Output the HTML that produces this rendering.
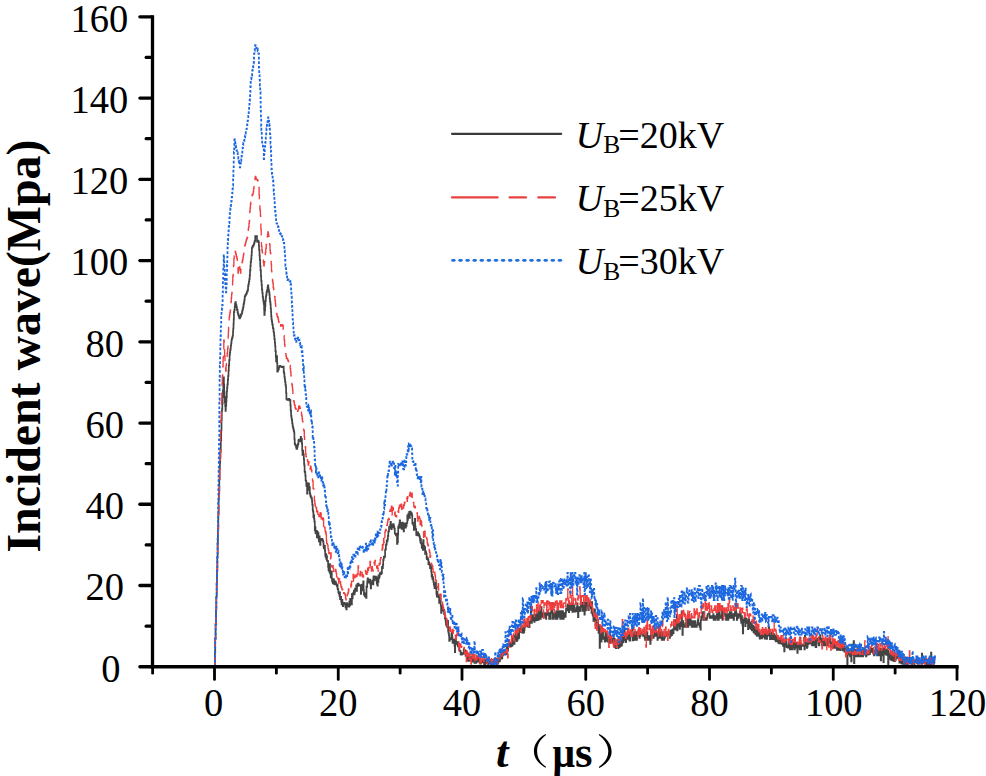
<!DOCTYPE html><html><head><meta charset="utf-8"><style>html,body{margin:0;padding:0;background:#fff;}svg{display:block;}</style></head><body>
<svg width="986" height="776" viewBox="0 0 986 776">
<rect width="986" height="776" fill="#fff"/>
<g fill="none" stroke-linejoin="miter">
<path d="M214.5 666.5H214.9V651.7H215.2V638.2H215.6V624.1H216.0V610.0H216.3V596.8H216.7V583.5H217.0V569.5H217.3V557.0H217.6V542.8H217.9V529.2H218.3V514.2H218.6V500.0H218.9V493.2H219.3V479.3H219.6V469.0H219.9V462.6H220.2V457.7H220.5V452.0H220.8V440.6H221.2V430.7H221.5V420.0H221.8V411.2H222.0V409.3H222.3V404.0H222.6V397.4H222.9V390.7H223.3V384.0H223.6V377.4H223.9V384.7H224.2V392.0H224.5V396.7H224.8V402.1H225.2V406.2H225.5V410.9H225.8V406.0H226.2V401.2H226.5V397.1H226.8V391.5H227.1V387.6H227.4V384.4H227.8V379.9H228.1V376.0H228.5V370.7H228.8V365.4H229.2V360.1H229.6V354.8H229.9V352.5H230.2V350.1H230.5V348.5H230.8V345.5H231.2V342.8H231.5V340.0H231.9V338.5H232.3V337.0H232.7V335.5H233.0V331.6H233.2V328.5H233.5V323.9H233.7V319.4H233.9V315.0H233.9V312.0H234.3V310.2H234.7V307.0H235.0V303.8H235.4V302.0H235.8V304.4H236.1V305.4H236.5V307.1H236.9V309.6H237.3V309.9H237.6V312.3H238.0V314.0H238.4V315.1H238.8V316.2H239.1V317.3H239.5V318.4H239.8V317.7H240.2V316.9H240.6V316.2H240.9V314.8H241.2V314.0H241.6V314.0H242.0V312.2H242.3V310.5H242.7V308.8H243.1V307.0H243.5V304.4H243.9V302.6H244.3V300.0H244.7V296.7H245.1V296.0H245.4V295.2H245.8V294.5H246.2V293.7H246.6V293.7H246.9V291.5H247.3V291.5H247.7V289.7H248.1V285.8H248.5V284.0H248.9V281.5H249.3V279.0H249.7V275.4H250.0V270.3H250.4V266.0H250.7V261.8H251.1V259.0H251.4V255.5H251.7V251.8H251.9V248.0H252.3V247.2H252.7V245.8H253.1V245.8H253.5V245.0H253.8V244.0H254.2V243.0H254.5V241.3H254.8V241.0H255.2V236.0H255.6V236.0H255.9V236.0H256.2V236.0H256.6V236.0H257.0V241.0H257.3V241.9H257.6V240.7H258.0V241.6H258.3V241.1H258.6V242.0H258.9V246.0H259.1V250.0H259.5V255.3H259.8V260.0H260.2V266.0H260.5V270.3H260.9V276.0H261.2V281.0H261.6V285.0H261.9V289.7H262.3V293.0H262.7V297.0H263.1V299.3H263.4V301.7H263.8V304.0H264.1V309.5H264.3V315.0H264.7V310.5H265.1V306.0H265.4V300.8H265.8V297.0H266.1V295.1H266.5V292.4H266.9V291.2H267.2V290.0H267.5V287.3H267.9V285.4H268.3V288.4H268.6V290.0H269.0V292.3H269.4V294.6H269.7V298.8H270.0V301.6H270.4V304.3H270.7V308.5H271.0V312.0H271.2V316.4H271.5V319.4H271.8V321.3H272.2V323.8H272.5V325.0H272.8V327.8H273.1V328.5H273.5V331.4H273.8V332.8H274.1V335.6H274.4V339.1H274.8V342.5H275.1V346.0H275.4V351.1H275.8V357.0H276.1V361.4H276.5V358.7H276.9V356.0H277.1V363.2H277.3V371.7H277.7V370.7H278.1V369.6H278.4V369.3H278.8V367.5H279.2V366.5H279.6V365.8H280.0V365.8H280.3V366.5H280.7V366.5H281.1V366.5H281.5V367.2H281.9V367.2H282.3V366.5H282.6V366.5H283.0V366.5H283.4V366.5H283.7V372.1H284.1V373.5H284.4V377.0H284.8V379.5H285.1V382.0H285.5V385.2H285.9V387.0H286.1V393.0H286.4V399.0H286.8V399.1H287.1V399.9H287.5V399.3H287.8V399.4H288.2V399.5H288.6V398.9H288.9V399.0H289.3V400.5H289.6V399.9H290.0V400.0H290.4V405.3H290.7V410.7H291.1V416.0H291.5V418.5H291.9V420.3H292.2V423.5H292.6V426.0H293.0V427.8H293.4V429.5H293.8V431.2H294.2V433.0H294.4V439.0H294.7V443.6H295.1V444.5H295.4V445.3H295.8V445.5H296.1V447.1H296.4V448.6H296.8V448.8H297.2V446.9H297.6V445.1H298.0V443.9H298.4V440.7H298.8V439.5H299.2V439.6H299.5V439.6H299.9V439.7H300.3V441.3H300.7V436.9H301.0V439.9H301.4V440.0H301.7V438.9H301.9V443.7H302.2V450.1H302.5V455.0H302.8V450.8H303.2V454.2H303.5V454.5H303.8V459.4H304.1V463.9H304.3V465.3H304.6V471.7H305.0V472.2H305.3V475.6H305.6V480.5H306.0V481.0H306.3V485.9H306.7V483.0H307.1V493.7H307.5V486.3H307.9V483.4H308.2V489.6H308.6V483.7H309.0V489.9H309.4V487.0H309.8V493.1H310.1V494.6H310.5V496.2H310.9V497.5H311.2V497.3H311.6V498.6H312.0V501.4H312.3V504.8H312.7V509.8H313.0V511.7H313.4V517.1H313.7V515.0H314.1V518.9H314.4V521.7H314.8V530.4H315.1V527.2H315.5V533.1H315.8V533.0H316.2V533.4H316.6V530.9H316.9V537.3H317.3V531.8H317.7V535.2H318.1V533.2H318.5V538.7H318.9V541.3H319.3V536.3H319.7V540.3H320.1V544.8H320.5V540.3H320.9V538.8H321.2V540.3H321.6V538.8H322.0V538.8H322.4V540.3H322.8V540.3H323.1V542.0H323.5V546.7H323.9V548.5H324.2V545.7H324.5V545.9H324.9V550.6H325.2V555.3H325.6V557.0H325.9V554.2H326.3V559.0H326.6V556.2H327.0V560.9H327.4V560.9H327.8V561.0H328.1V567.0H328.5V570.1H328.9V570.1H329.2V571.7H329.6V564.2H330.0V573.3H330.4V571.7H330.7V577.5H331.1V577.4H331.4V571.3H331.8V578.6H332.1V581.5H332.5V581.7H332.8V583.4H333.2V579.1H333.6V579.3H334.0V582.5H334.3V584.1H334.7V581.3H335.1V584.5H335.5V581.7H335.8V583.4H336.2V583.6H336.6V585.0H336.9V586.4H337.2V584.8H337.6V589.1H337.9V589.0H338.3V591.9H338.6V592.8H339.0V593.6H339.4V596.0H339.7V592.3H340.0V599.1H340.4V597.0H340.8V596.9H341.2V601.4H341.6V604.3H342.0V599.8H342.4V604.2H342.8V606.1H343.2V605.0H343.6V603.9H343.9V602.8H344.3V603.1H344.7V603.5H345.1V603.9H345.5V607.3H345.9V605.4H346.3V609.5H346.7V603.1H347.1V604.2H347.4V605.4H347.8V606.5H348.2V604.6H348.6V604.2H349.0V606.6H349.3V601.5H349.7V605.4H350.1V598.9H350.5V601.3H350.8V603.7H351.2V600.1H351.6V604.5H351.9V594.0H352.3V598.5H352.7V593.9H353.1V593.3H353.5V592.6H353.9V590.5H354.2V594.3H354.6V592.2H355.0V588.6H355.4V590.9H355.8V588.8H356.2V585.4H356.6V591.0H357.0V586.1H357.4V584.2H357.7V583.9H358.1V583.5H358.5V584.6H358.9V585.7H359.3V585.6H359.7V585.4H360.1V585.3H360.4V585.2H360.8V594.0H361.2V587.9H361.6V587.7H362.0V584.6H362.4V587.5H362.8V590.5H363.2V581.4H363.6V590.3H363.9V594.7H364.3V593.1H364.7V596.1H365.1V596.0H365.5V596.6H365.8V594.2H366.1V597.8H366.5V586.3H366.9V586.9H367.2V581.5H367.6V578.4H368.0V579.8H368.4V581.3H368.8V582.7H369.2V579.6H369.6V582.5H369.9V579.5H370.3V583.9H370.7V588.3H371.1V583.7H371.5V582.2H371.9V582.1H372.3V580.5H372.7V583.2H373.0V584.4H373.4V576.7H373.8V576.4H374.2V577.6H374.5V580.3H374.9V578.5H375.3V576.7H375.7V576.5H376.0V577.7H376.4V577.4H376.8V583.2H377.1V584.4H377.5V585.7H377.8V579.3H378.2V581.8H378.5V575.4H378.9V578.1H379.3V576.4H379.7V573.1H380.1V574.3H380.4V574.1H380.8V573.8H381.2V572.1H381.6V573.3H381.9V567.1H382.2V566.9H382.6V568.2H382.9V564.9H383.2V560.2H383.6V558.5H383.9V556.7H384.3V556.5H384.7V557.0H385.1V550.1H385.5V549.1H385.9V545.2H386.3V544.2H386.7V540.6H387.1V541.5H387.5V539.5H387.9V535.9H388.3V532.1H388.6V531.2H389.0V527.4H389.4V526.6H389.8V528.0H390.2V524.9H390.5V521.8H390.9V527.7H391.3V529.1H391.7V526.1H392.1V524.5H392.5V527.4H392.8V527.3H393.2V524.2H393.6V525.6H394.0V527.3H394.4V528.9H394.8V533.6H395.2V533.7H395.6V533.9H396.0V535.3H396.3V533.6H396.6V535.0H397.0V543.9H397.4V542.2H397.7V542.1H397.9V534.4H398.2V526.6H398.6V528.0H399.0V524.9H399.4V523.4H399.7V520.3H400.1V526.2H400.5V527.6H400.9V526.0H401.3V522.9H401.6V528.9H402.0V522.8H402.4V522.7H402.8V525.6H403.2V524.0H403.6V531.4H404.0V523.7H404.4V526.6H404.7V525.0H405.1V523.4H405.5V527.7H405.9V524.6H406.2V526.0H406.6V523.0H406.9V523.0H407.3V515.4H407.6V519.8H408.0V515.3H408.4V513.7H408.8V518.0H409.2V511.9H409.6V517.8H409.9V511.7H410.3V511.5H410.7V512.9H411.1V514.3H411.5V513.4H411.9V515.4H412.3V523.5H412.7V522.5H413.1V524.6H413.5V524.9H413.8V529.8H414.1V527.1H414.5V527.4H414.9V518.8H415.2V526.6H415.5V529.4H415.9V529.1H416.2V534.9H416.6V532.0H417.0V535.1H417.4V535.3H417.8V532.4H418.1V535.5H418.5V534.1H418.9V534.3H419.3V535.9H419.6V537.1H420.0V539.8H420.4V542.5H420.7V539.2H421.0V543.4H421.4V543.1H421.7V547.1H422.1V548.2H422.4V546.2H422.8V549.9H423.2V540.0H423.6V549.6H423.9V545.8H424.3V548.0H424.7V547.1H425.1V553.8H425.5V551.4H425.9V552.6H426.2V553.8H426.6V558.0H426.9V559.2H427.2V557.4H427.6V558.6H428.0V559.8H428.4V564.1H428.8V562.3H429.2V563.6H429.6V564.8H430.0V568.1H430.4V565.4H430.8V567.2H431.2V572.0H431.6V576.3H431.9V574.6H432.3V578.9H432.7V577.2H433.1V579.6H433.4V582.0H433.8V584.4H434.2V585.6H434.5V588.2H434.9V587.9H435.3V587.5H435.6V582.7H436.0V588.4H436.4V594.0H436.8V596.7H437.1V591.8H437.5V596.0H437.9V597.0H438.3V595.0H438.7V596.0H439.1V603.0H439.5V598.0H439.9V600.4H440.3V601.3H440.7V605.5H441.1V612.9H441.5V605.9H441.9V606.9H442.3V606.5H442.6V607.7H443.0V610.6H443.4V610.2H443.7V609.8H444.1V614.2H444.5V612.3H444.8V618.3H445.2V617.9H445.6V621.0H445.9V624.0H446.3V625.5H446.7V620.5H447.0V626.8H447.4V626.6H447.8V620.8H448.1V631.0H448.5V633.2H448.9V635.4H449.2V640.8H449.6V639.8H450.0V638.5H450.3V638.8H450.7V639.2H451.1V637.9H451.4V633.4H451.8V632.1H452.2V637.3H452.5V642.6H452.9V643.0H453.3V641.3H453.7V639.6H454.1V642.7H454.5V645.8H454.9V652.1H455.2V639.3H455.6V639.2H456.0V643.9H456.4V642.2H456.8V642.1H457.2V642.0H457.6V645.1H457.9V646.5H458.3V643.1H458.7V646.2H459.0V646.0H459.4V650.7H459.8V650.9H460.2V651.0H460.6V654.4H461.0V652.9H461.4V654.7H461.8V653.2H462.1V653.4H462.5V653.6H462.9V653.7H463.3V653.9H463.7V649.2H464.1V651.0H464.5V651.1H464.9V652.9H465.3V650.3H465.6V655.8H466.0V651.6H466.4V653.9H466.7V652.9H467.1V653.5H467.5V660.6H467.8V654.8H468.2V655.5H468.6V660.9H468.9V656.8H469.3V660.6H469.7V660.5H470.1V658.8H470.5V657.2H470.9V657.1H471.3V657.0H471.7V660.1H472.1V661.6H472.4V656.8H472.8V661.5H473.2V661.4H473.6V658.1H474.0V659.7H474.4V662.8H474.8V659.5H475.2V661.2H475.6V662.8H475.9V662.9H476.3V661.4H476.7V659.8H477.1V659.9H477.5V661.6H477.9V656.8H478.2V660.1H478.6V658.5H479.0V658.6H479.4V661.9H479.8V663.5H480.2V657.2H480.5V663.7H480.9V662.1H481.3V660.6H481.7V662.3H482.1V660.8H482.5V662.4H482.9V662.5H483.3V659.4H483.7V659.5H484.1V664.4H484.4V664.4H484.8V664.5H485.2V659.8H485.6V659.9H486.0V663.1H486.4V658.4H486.8V661.7H487.2V660.3H487.6V660.5H488.0V665.5H488.4V659.3H488.8V659.5H489.2V661.3H489.6V663.1H490.0V660.1H490.4V663.5H490.8V662.1H491.2V663.9H491.6V662.1H492.0V663.6H492.4V665.5H492.8V660.1H493.2V661.5H493.6V661.4H493.9V659.6H494.3V659.4H494.7V659.3H495.1V660.7H495.5V659.0H495.9V658.8H496.3V663.5H496.7V661.7H497.1V659.6H497.4V660.7H497.8V663.4H498.2V656.5H498.5V657.7H498.9V658.8H499.3V661.5H499.6V661.0H500.0V657.3H500.4V658.4H500.8V657.9H501.2V654.2H501.5V658.6H501.9V658.1H502.3V652.8H502.7V655.5H503.1V650.2H503.5V652.9H503.8V652.5H504.2V653.6H504.6V651.5H505.0V651.0H505.4V654.4H505.8V653.8H506.2V653.2H506.5V644.5H506.9V649.9H507.3V645.3H507.7V650.7H508.1V644.1H508.5V645.5H508.8V644.8H509.2V646.2H509.6V645.6H510.0V643.0H510.4V646.7H510.8V642.5H511.2V646.2H511.5V645.9H511.9V639.7H512.3V645.4H512.7V637.1H513.1V642.8H513.5V642.6H513.8V640.3H514.2V644.0H514.6V635.8H515.0V639.5H515.4V634.9H515.8V634.3H516.2V633.8H516.5V641.2H516.9V636.6H517.3V640.0H517.7V635.5H518.1V632.9H518.5V638.3H518.8V637.7H519.2V631.2H519.6V628.6H520.0V632.0H520.4V631.6H520.8V631.2H521.2V626.8H521.5V632.5H521.9V630.1H522.3V629.7H522.7V627.3H523.1V632.9H523.5V628.5H523.8V632.2H524.2V629.8H524.6V623.4H525.0V627.0H525.4V622.7H525.8V624.3H526.2V624.0H526.5V623.6H526.9V625.3H527.3V624.9H527.7V626.6H528.1V624.2H528.5V621.9H528.8V625.5H529.2V627.2H529.6V622.8H530.0V622.5H530.4V620.1H530.8V605.7H531.2V619.2H531.5V622.8H531.9V620.4H532.3V618.0H532.7V615.5H533.1V615.1H533.5V616.7H533.8V620.3H534.2V621.8H534.6V619.4H535.0V617.0H535.4V614.8H535.8V614.7H536.2V620.5H536.5V614.4H536.9V620.2H537.3V608.1H537.7V613.9H538.1V619.8H538.5V619.6H538.8V617.5H539.2V611.3H539.6V611.2H540.0V615.0H540.4V619.0H540.8V617.0H541.2V607.0H541.6V615.0H542.0V617.0H542.4V613.0H542.8V615.0H543.2V617.0H543.6V617.0H544.0V617.0H544.4V613.0H544.8V615.0H545.2V613.0H545.6V615.0H546.0V619.0H546.3V615.0H546.7V613.0H547.1V615.0H547.5V615.0H547.9V611.0H548.3V613.0H548.7V613.0H549.1V619.0H549.5V613.0H549.9V613.0H550.3V619.0H550.7V613.0H551.1V611.0H551.5V611.0H551.9V603.0H552.3V613.0H552.7V619.0H553.1V613.0H553.5V613.0H553.9V617.0H554.3V613.0H554.7V613.0H555.1V619.0H555.5V619.0H555.9V613.0H556.3V611.0H556.7V619.0H557.1V619.0H557.5V617.0H557.9V611.0H558.3V615.0H558.7V613.0H559.0V611.0H559.4V617.0H559.8V613.0H560.2V619.0H560.6V611.0H561.0V613.0H561.4V617.0H561.8V619.0H562.2V619.0H562.6V611.0H563.0V613.0H563.4V619.0H563.8V617.0H564.2V613.0H564.6V613.0H565.0V615.0H565.3V616.8H565.7V612.7H566.0V608.5H566.4V610.5H566.8V610.4H567.2V606.4H567.6V604.3H568.0V604.3H568.4V610.2H568.8V612.2H569.2V608.2H569.6V604.1H570.0V604.1H570.4V610.0H570.8V606.0H571.2V606.0H571.6V609.9H572.0V605.9H572.4V611.8H572.8V603.8H573.2V603.8H573.6V611.7H574.0V605.7H574.4V607.6H574.8V611.6H575.2V611.5H575.6V609.5H576.0V611.5H576.4V609.4H576.8V607.4H577.2V603.3H577.6V609.3H578.0V617.2H578.4V611.2H578.8V607.2H579.2V611.1H579.6V607.1H580.0V611.0H580.4V611.0H580.8V603.0H581.2V602.9H581.6V606.9H582.0V606.8H582.4V602.8H582.8V610.8H583.2V602.7H583.6V608.7H584.0V610.6H584.4V614.6H584.8V610.5H585.2V602.5H585.6V610.5H586.0V606.4H586.4V606.4H586.8V602.3H587.2V604.3H587.6V606.2H588.0V608.2H588.4V610.2H588.8V602.1H589.2V604.1H589.6V606.0H590.0V606.0H590.4V605.2H590.8V608.5H591.1V605.8H591.5V613.0H591.9V602.2H592.2V609.5H592.6V614.8H593.0V616.0H593.4V620.9H593.8V619.7H594.2V614.5H594.6V609.4H595.0V616.2H595.4V625.1H595.8V620.0H596.2V626.8H596.6V627.6H597.0V624.5H597.4V625.6H597.8V622.6H598.1V629.7H598.5V632.8H598.9V627.8H599.2V626.9H599.6V647.9H600.0V633.0H600.4V629.2H600.8V627.4H601.2V641.7H601.6V637.9H601.9V636.1H602.3V630.3H602.7V632.6H603.1V638.8H603.5V639.0H603.9V637.2H604.3V637.4H604.7V641.7H605.1V639.9H605.4V632.1H605.8V634.3H606.2V638.6H606.6V640.8H607.0V637.0H607.4V641.3H607.8V639.6H608.2V641.9H608.5V640.2H608.9V636.5H609.3V642.8H609.7V641.2H610.1V639.5H610.5V635.8H610.8V636.1H611.2V642.4H611.6V638.7H612.0V641.0H612.4V639.3H612.8V641.6H613.2V639.9H613.5V644.2H613.9V638.5H614.3V638.8H614.7V647.2H615.1V643.5H615.5V643.8H615.8V648.1H616.2V640.4H616.6V640.7H617.0V645.0H617.4V640.7H617.8V644.4H618.2V648.1H618.5V639.8H618.9V641.5H619.3V647.2H619.7V642.8H620.1V644.5H620.5V646.2H620.8V637.9H621.2V643.6H621.6V645.3H622.0V641.0H622.4V632.7H622.8V642.4H623.2V638.1H623.5V639.8H623.9V639.5H624.3V629.2H624.7V634.8H625.1V640.5H625.5V642.2H625.8V641.9H626.2V637.6H626.6V637.3H627.0V637.0H627.4V637.0H627.8V638.9H628.2V634.9H628.6V636.8H629.0V634.8H629.4V640.7H629.8V640.6H630.2V636.6H630.6V632.5H631.0V632.5H631.4V632.5H631.8V632.4H632.2V626.4H632.6V640.3H633.0V634.2H633.4V640.2H633.8V636.1H634.2V634.1H634.6V632.0H635.0V636.0H635.4V640.0H635.8V632.0H636.2V638.0H636.6V640.0H637.0V632.0H637.4V634.0H637.8V636.0H638.2V632.0H638.6V636.0H639.0V634.0H639.4V638.0H639.8V632.0H640.2V636.0H640.6V632.0H641.0V634.0H641.4V632.0H641.8V632.0H642.2V632.0H642.6V634.0H643.0V636.0H643.4V634.0H643.8V636.0H644.2V636.0H644.6V638.0H645.0V640.0H645.4V638.0H645.8V634.0H646.2V638.0H646.6V634.0H647.0V632.0H647.4V638.0H647.8V640.0H648.2V636.0H648.6V636.0H649.0V636.0H649.4V638.0H649.8V640.0H650.2V644.0H650.6V640.0H651.0V634.0H651.4V634.0H651.8V632.0H652.2V636.0H652.6V636.0H653.0V638.0H653.4V638.0H653.8V636.0H654.2V632.0H654.6V636.0H655.0V636.0H655.4V634.0H655.8V632.0H656.2V634.0H656.6V636.0H657.0V636.0H657.4V640.0H657.8V636.0H658.2V632.0H658.6V638.0H658.9V626.0H659.3V636.0H659.7V638.0H660.1V632.0H660.5V636.0H660.9V632.0H661.3V634.0H661.7V640.0H662.1V634.0H662.5V632.0H662.9V640.0H663.3V640.0H663.7V640.0H664.1V638.0H664.5V638.0H664.9V636.0H665.3V632.0H665.7V634.0H666.1V634.0H666.4V632.0H666.8V636.0H667.2V636.0H667.6V634.0H668.0V634.0H668.4V634.0H668.8V634.0H669.2V632.0H669.6V638.0H670.0V636.0H670.4V630.8H670.8V635.6H671.2V630.4H671.6V635.2H672.0V630.0H672.4V633.7H672.8V629.5H673.2V633.2H673.6V628.9H674.0V624.7H674.4V628.4H674.8V620.1H675.2V627.9H675.6V629.6H676.0V623.3H676.4V627.1H676.8V614.8H677.2V630.5H677.6V626.3H678.0V626.0H678.4V623.7H678.8V625.4H679.2V625.1H679.6V628.8H680.0V622.5H680.4V626.2H680.8V625.9H681.2V621.6H681.6V611.3H682.0V623.0H682.4V635.0H682.8V621.0H683.2V625.0H683.6V625.0H684.0V627.0H684.4V625.0H684.8V627.0H685.2V623.0H685.6V625.0H686.0V627.0H686.4V619.0H686.8V623.0H687.2V621.0H687.6V619.0H688.0V627.0H688.4V621.0H688.8V625.0H689.2V615.0H689.6V621.0H690.0V625.0H690.4V619.0H690.8V621.0H691.2V623.0H691.6V627.0H692.0V621.0H692.4V625.0H692.8V627.0H693.2V621.0H693.6V627.0H694.0V627.0H694.4V621.0H694.8V621.0H695.2V623.0H695.6V625.0H696.0V627.0H696.4V627.0H696.8V625.0H697.2V625.0H697.6V621.0H698.0V619.0H698.4V625.0H698.8V625.0H699.2V625.0H699.6V627.0H700.0V623.0H700.4V629.6H700.8V620.2H701.2V616.8H701.6V617.4H702.0V616.0H702.4V612.0H702.8V612.0H703.2V620.0H703.6V616.0H704.0V612.0H704.4V618.0H704.8V618.0H705.2V620.0H705.6V618.0H706.0V618.0H706.4V620.0H706.8V618.0H707.2V616.0H707.6V614.0H708.0V614.0H708.4V614.0H708.8V614.0H709.2V612.0H709.6V618.0H710.0V616.0H710.4V616.0H710.8V618.0H711.2V618.0H711.6V616.0H712.0V618.0H712.4V616.0H712.8V618.0H713.2V614.0H713.6V620.0H714.0V616.0H714.4V618.0H714.8V620.0H715.2V616.0H715.6V616.0H716.0V618.0H716.4V618.0H716.8V614.0H717.2V620.0H717.6V620.0H718.0V612.0H718.4V620.0H718.8V616.0H719.2V612.0H719.6V616.0H720.0V618.0H720.4V616.0H720.8V616.0H721.2V618.0H721.6V614.0H722.0V606.0H722.4V620.0H722.8V614.0H723.2V616.0H723.6V612.0H724.0V612.0H724.4V614.0H724.8V614.0H725.2V614.0H725.6V616.0H726.0V620.0H726.4V614.0H726.8V614.0H727.2V614.0H727.6V614.0H728.0V620.0H728.4V618.0H728.8V616.0H729.2V616.0H729.6V612.0H730.0V614.0H730.4V618.0H730.8V612.0H731.2V612.0H731.6V618.0H732.0V614.0H732.4V614.0H732.8V616.0H733.2V618.0H733.6V620.0H734.0V614.0H734.4V614.0H734.8V612.0H735.2V616.0H735.6V604.0H736.0V612.0H736.4V616.0H736.8V620.0H737.2V618.0H737.6V614.0H738.0V616.0H738.4V618.0H738.8V616.0H739.2V614.0H739.6V614.0H740.0V616.0H740.4V613.0H740.8V620.0H741.2V623.0H741.6V616.0H742.0V621.0H742.4V625.1H742.8V633.3H743.2V619.5H743.6V621.6H744.0V621.8H744.4V617.9H744.8V620.0H745.2V626.2H745.6V618.4H746.0V620.5H746.4V618.6H746.8V620.8H747.2V623.0H747.6V623.1H748.0V629.2H748.4V627.4H748.8V619.5H749.2V625.7H749.6V627.9H750.0V624.0H750.4V622.5H750.8V628.9H751.2V625.4H751.5V621.8H751.9V630.3H752.3V626.8H752.7V627.2H753.1V625.7H753.5V632.2H753.8V632.6H754.2V627.1H754.6V631.5H755.0V630.0H755.4V634.4H755.8V630.8H756.2V627.2H756.5V627.5H756.9V635.9H757.3V630.3H757.7V632.7H758.1V635.1H758.5V629.5H758.8V631.8H759.2V636.2H759.6V638.6H760.0V635.0H760.4V635.0H760.8V636.8H761.2V636.8H761.6V638.5H762.0V636.8H762.4V633.5H762.8V631.8H763.2V636.9H763.6V631.8H763.9V635.3H764.3V635.3H764.7V638.7H765.1V633.6H765.5V633.7H765.9V632.0H766.3V638.8H766.7V638.8H767.1V632.1H767.5V635.5H767.9V632.1H768.3V635.6H768.7V627.1H769.1V632.2H769.5V635.6H769.9V639.1H770.3V637.4H770.7V637.4H771.1V639.1H771.4V632.4H771.8V632.4H772.2V632.4H772.6V639.2H773.0V634.2H773.4V634.2H773.8V634.2H774.2V635.9H774.6V639.4H775.0V636.0H775.4V640.4H775.8V641.4H776.2V635.6H776.6V640.0H777.0V641.0H777.4V637.7H777.8V641.2H778.2V643.0H778.6V638.0H779.0V638.1H779.4V643.3H779.8V643.4H780.2V641.8H780.6V640.2H781.0V640.3H781.4V638.7H781.8V643.9H782.2V640.6H782.6V640.7H783.0V645.9H783.4V644.3H783.8V646.1H784.2V651.3H784.6V641.2H785.0V643.0H785.4V645.3H785.8V645.9H786.2V641.4H786.6V647.1H787.0V646.0H787.4V646.0H787.8V647.7H788.2V646.0H788.6V644.3H789.0V642.6H789.4V646.0H789.8V649.4H790.2V649.4H790.6V649.4H791.0V642.6H791.4V644.3H791.8V642.6H792.1V649.4H792.5V642.6H792.9V646.0H793.3V647.7H793.7V642.6H794.1V644.3H794.5V649.4H794.9V642.6H795.3V642.6H795.7V647.7H796.1V642.6H796.5V642.6H796.9V647.7H797.3V652.8H797.7V644.3H798.1V647.7H798.5V647.7H798.9V644.3H799.3V647.7H799.7V649.4H800.1V637.5H800.5V646.0H800.9V649.4H801.2V646.0H801.6V644.3H802.0V646.0H802.4V644.3H802.8V644.3H803.2V644.3H803.6V646.0H804.0V646.0H804.4V649.4H804.8V635.8H805.2V644.3H805.6V642.6H806.0V646.0H806.4V643.5H806.8V647.8H807.2V647.0H807.6V644.5H808.0V642.0H808.4V640.3H808.8V643.7H809.2V638.6H809.6V642.0H810.0V642.0H810.4V643.7H810.8V638.6H811.2V640.3H811.6V643.7H812.0V645.4H812.4V645.4H812.8V643.7H813.2V638.6H813.6V640.3H814.0V645.4H814.4V642.0H814.8V642.0H815.2V638.6H815.6V647.1H816.0V647.1H816.4V638.6H816.8V640.3H817.2V640.3H817.6V638.6H818.0V638.6H818.4V643.7H818.8V645.4H819.2V638.6H819.6V638.6H820.0V635.2H820.4V642.0H820.8V638.6H821.2V642.0H821.6V645.4H822.0V643.7H822.4V645.4H822.8V638.6H823.2V643.7H823.6V640.3H824.0V640.3H824.4V645.4H824.8V642.0H825.2V642.0H825.6V643.7H826.0V645.4H826.4V645.4H826.8V638.6H827.2V638.6H827.6V643.7H828.0V645.4H828.4V638.6H828.8V642.0H829.2V642.0H829.6V638.6H830.0V642.0H830.4V642.8H830.8V647.0H831.2V642.7H831.6V643.5H832.0V646.0H832.4V642.6H832.8V647.8H833.2V642.7H833.6V642.7H834.0V642.8H834.4V647.9H834.8V644.5H835.2V644.6H835.6V642.9H836.0V648.0H836.4V643.0H836.8V649.8H837.2V649.8H837.6V648.2H838.0V649.9H838.4V648.2H838.8V648.3H839.2V650.0H839.6V650.0H840.0V645.0H840.4V650.1H840.8V646.7H841.2V648.5H841.6V648.5H842.0V648.5H842.4V645.2H842.8V650.3H843.2V646.9H843.6V647.0H844.0V647.0H844.4V651.6H844.8V649.4H845.2V648.9H845.6V651.8H846.0V653.0H846.4V651.3H846.8V654.7H847.2V664.9H847.6V647.9H848.0V649.6H848.4V653.0H848.8V654.7H849.2V654.7H849.6V649.6H850.0V656.4H850.4V649.6H850.8V653.0H851.2V661.5H851.6V653.0H852.0V644.5H852.4V649.6H852.8V646.2H853.2V654.7H853.6V641.1H854.0V663.2H854.4V654.7H854.8V649.6H855.2V654.7H855.6V656.4H856.0V654.7H856.4V649.6H856.8V654.7H857.2V654.7H857.6V656.4H858.0V656.4H858.4V656.4H858.8V654.7H859.2V653.0H859.6V654.7H860.0V656.4H860.4V651.3H860.8V656.4H861.2V656.4H861.6V649.6H862.0V649.6H862.4V654.7H862.8V656.4H863.2V649.6H863.6V654.7H864.0V651.3H864.4V649.6H864.8V649.6H865.2V654.7H865.6V649.6H866.0V656.4H866.4V651.3H866.8V654.7H867.2V653.0H867.6V654.7H868.0V653.0H868.4V651.1H868.8V654.3H869.2V654.1H869.6V653.9H870.0V652.0H870.4V650.3H870.8V648.6H871.2V652.0H871.6V648.6H872.0V652.0H872.4V650.3H872.8V648.6H873.2V653.7H873.6V650.3H873.9V655.4H874.3V650.3H874.7V652.0H875.1V650.3H875.5V653.7H875.9V648.6H876.3V648.6H876.7V650.3H877.1V653.7H877.5V655.4H877.9V655.4H878.3V653.7H878.7V648.6H879.1V648.6H879.5V655.4H879.9V650.3H880.3V648.6H880.7V660.5H881.1V655.4H881.4V652.0H881.8V648.6H882.2V653.7H882.6V652.0H883.0V655.4H883.4V662.2H883.8V648.6H884.2V653.7H884.6V648.6H885.0V652.0H885.4V652.3H885.8V654.3H886.2V649.5H886.5V654.9H886.9V650.1H887.3V650.4H887.7V650.8H888.1V664.7H888.5V651.4H888.8V655.1H889.2V658.8H889.6V654.0H890.0V656.0H890.4V657.9H890.8V659.7H891.2V659.9H891.5V653.2H891.9V658.5H892.3V660.3H892.7V655.4H893.1V658.9H893.5V660.8H893.8V655.8H894.2V654.3H894.6V661.2H895.0V658.0H895.4V659.8H895.8V654.8H896.2V658.4H896.6V658.5H897.0V655.2H897.4V655.3H897.8V655.4H898.2V657.3H898.6V657.4H899.0V650.7H899.4V662.7H899.8V656.0H900.2V657.9H900.6V656.3H901.0V661.5H901.4V663.3H901.8V658.3H902.2V663.6H902.6V658.6H903.0V663.8H903.4V663.9H903.8V664.0H904.2V660.8H904.6V657.5H905.0V661.0H905.4V657.6H905.8V664.5H906.2V662.8H906.6V657.7H907.0V664.5H907.4V664.6H907.8V661.2H908.2V657.8H908.6V659.5H909.0V659.6H909.4V657.9H909.8V663.0H910.2V663.0H910.6V659.7H911.0V661.4H911.4V659.7H911.8V664.9H912.2V659.8H912.6V658.1H913.0V663.2H913.4V659.9H913.8V661.6H914.2V665.0H914.6V661.6H915.0V661.7H915.4V661.7H915.8V660.0H916.2V660.0H916.6V661.8H917.0V663.5H917.4V660.1H917.8V663.6H918.2V661.9H918.6V658.5H919.0V660.2H919.4V663.7H919.8V660.3H920.2V662.0H920.6V662.0H921.0V662.1H921.4V660.4H921.8V653.6H922.2V660.4H922.6V662.2H923.0V660.5H923.4V662.2H923.8V662.3H924.2V660.6H924.6V658.9H925.0V662.3H925.4V664.1H925.8V665.5H926.2V662.4H926.6V665.5H927.0V662.5H927.4V664.2H927.8V664.2H928.2V662.5H928.6V659.2H929.0V659.2H929.4V660.9H929.8V665.5H930.2V662.7H930.6V665.5H931.0V652.5H931.4V664.5H931.8V664.5H932.2V664.5H932.6V661.1H933.0V664.6H933.4V662.9H933.8V659.5H934.2V662.9H934.6V663.0H935.0V663.0" stroke="#444" stroke-width="1.7"/>
<path d="M214.5 666.5H214.9V652.4H215.2V638.2H215.6V623.4H216.0V610.0H216.4V596.0H216.8V583.5H217.1V570.2H217.5V557.0H217.8V543.5H218.2V527.8H218.5V514.2H218.8V500.0H219.1V489.7H219.5V479.3H219.8V469.0H220.2V450.0H220.5V431.0H220.8V421.0H221.2V411.0H221.5V401.0H221.8V391.0H222.1V383.4H222.3V375.7H222.7V366.8H223.1V357.9H223.4V349.0H223.8V340.1H224.2V348.1H224.6V356.0H225.0V361.7H225.3V365.3H225.7V371.0H226.1V365.6H226.4V361.0H226.8V357.0H227.2V353.1H227.6V348.5H228.0V343.2H228.2V336.0H228.4V330.7H228.6V325.4H228.9V321.2H229.2V317.0H229.6V314.7H229.9V312.4H230.3V310.1H230.6V306.0H231.0V301.8H231.3V297.7H231.6V293.9H232.0V290.2H232.3V286.4H232.6V281.2H232.8V276.0H233.2V270.2H233.5V265.1H233.9V258.6H234.2V255.8H234.6V253.1H234.9V250.3H235.2V251.7H235.6V253.1H235.9V254.5H236.3V256.5H236.7V257.2H237.0V258.6H237.3V263.4H237.7V267.5H238.0V273.0H238.3V269.9H238.7V266.8H239.0V263.7H239.4V266.0H239.8V268.4H240.2V270.7H240.6V273.0H240.8V269.4H241.1V265.8H241.5V264.2H241.8V262.7H242.2V261.2H242.6V259.6H243.0V257.4H243.4V254.6H243.8V251.1H244.2V248.2H244.6V245.9H245.0V244.9H245.4V243.3H245.8V241.6H246.2V240.0H246.6V239.1H246.9V238.1H247.3V237.2H247.6V234.4H248.0V232.4H248.3V228.9H248.6V226.9H249.0V223.4H249.3V220.7H249.6V215.4H249.8V211.4H250.1V207.8H250.4V204.2H250.8V202.1H251.2V200.1H251.5V198.0H251.9V195.9H252.2V194.5H252.6V194.6H252.9V193.9H253.2V191.9H253.6V188.4H254.0V185.7H254.3V183.0H254.6V181.5H255.0V177.8H255.3V176.3H255.7V177.3H256.1V179.1H256.5V179.4H256.9V179.9H257.2V179.7H257.6V180.9H257.9V180.8H258.2V182.0H258.6V182.5H258.9V187.3H259.1V194.9H259.4V198.9H259.6V204.2H259.9V209.2H260.2V211.4H260.4V215.9H260.7V221.7H260.9V228.9H261.2V239.2H261.5V246.2H261.9V250.2H262.3V252.7H262.6V256.0H263.0V259.3H263.4V262.5H263.8V265.8H264.2V262.3H264.6V258.8H265.0V254.5H265.4V252.4H265.8V248.2H266.2V244.5H266.5V241.5H266.9V239.2H267.2V236.8H267.6V234.4H267.9V232.0H268.3V233.8H268.6V236.3H269.0V237.4H269.4V239.2H269.7V244.8H270.0V250.3H270.3V252.7H270.7V255.1H271.0V257.5H271.2V264.2H271.5V270.9H271.8V273.6H272.2V277.1H272.5V281.2H272.9V283.3H273.2V287.4H273.6V289.5H273.9V291.9H274.3V294.3H274.6V296.7H275.0V300.6H275.4V303.8H275.7V308.3H276.1V312.2H276.5V313.4H276.8V314.6H277.1V315.8H277.5V317.0H277.9V317.5H278.2V319.4H278.5V321.4H278.9V322.6H279.2V325.3H279.6V324.6H279.9V324.6H280.3V323.2H280.6V326.0H281.0V325.3H281.4V326.0H281.7V325.3H282.1V324.6H282.4V325.3H282.8V325.3H283.2V329.4H283.5V332.9H283.9V335.6H284.2V340.1H284.6V344.5H284.9V349.0H285.3V351.3H285.6V353.6H286.0V356.0H286.4V358.3H286.8V358.1H287.2V358.6H287.6V359.8H287.9V360.4H288.3V361.6H288.7V360.7H289.1V362.6H289.5V362.4H289.9V365.5H290.2V368.6H290.6V371.7H290.9V375.8H291.3V377.9H291.6V382.0H291.9V384.7H292.3V387.3H292.6V390.0H292.9V395.5H293.1V398.2H293.5V400.7H293.9V401.9H294.3V404.4H294.7V405.5H295.1V407.6H295.4V408.2H295.8V408.9H296.1V410.3H296.4V412.3H296.8V413.7H297.2V412.4H297.6V411.1H298.0V409.8H298.3V409.1H298.7V406.4H299.1V405.8H299.5V406.6H299.8V407.5H300.1V408.4H300.5V409.2H300.9V412.6H301.2V410.9H301.5V415.0H301.9V416.4H302.2V419.2H302.5V421.6H302.9V422.7H303.2V426.4H303.6V429.8H303.9V430.7H304.3V436.7H304.6V442.7H305.0V443.6H305.3V447.0H305.6V453.6H306.0V456.4H306.3V459.1H306.7V457.1H307.1V457.8H307.5V461.1H307.9V461.7H308.2V465.0H308.6V461.7H309.0V465.0H309.4V464.3H309.8V467.9H310.1V469.0H310.4V466.1H310.8V467.1H311.1V469.5H311.5V470.5H311.8V476.5H312.2V478.7H312.5V480.8H312.8V481.3H313.1V488.3H313.5V488.7H313.8V490.5H314.1V496.2H314.4V500.6H314.8V503.7H315.1V505.5H315.5V508.4H315.9V511.2H316.2V507.5H316.6V511.7H317.0V510.8H317.4V511.2H317.8V514.2H318.1V513.2H318.5V511.0H318.9V516.6H319.3V515.7H319.7V514.8H320.1V512.6H320.5V520.8H320.9V513.4H321.2V518.9H321.6V515.4H322.0V519.7H322.4V518.8H322.8V517.9H323.2V518.9H323.6V530.3H324.0V527.5H324.4V527.2H324.8V527.7H325.1V530.8H325.5V532.6H325.9V534.4H326.1V529.5H326.4V540.3H326.7V543.3H327.0V543.6H327.4V547.9H327.7V544.3H328.0V548.6H328.4V550.4H328.8V553.5H329.1V552.7H329.5V555.8H329.8V558.3H330.1V559.6H330.5V558.2H330.8V553.0H331.1V562.0H331.5V565.8H331.9V567.0H332.3V565.7H332.7V565.6H333.1V568.1H333.5V571.4H333.9V569.4H334.3V570.0H334.6V570.7H335.0V572.6H335.4V569.4H335.8V571.4H336.2V573.3H336.6V576.9H336.9V574.1H337.2V573.8H337.6V576.1H337.9V578.5H338.3V579.5H338.7V583.0H339.1V578.7H339.5V583.5H339.9V581.8H340.2V581.4H340.6V584.9H341.0V587.1H341.4V586.7H341.8V588.9H342.2V589.8H342.6V589.4H342.9V590.3H343.3V588.6H343.7V593.4H344.1V593.0H344.5V593.9H344.8V594.0H345.2V595.3H345.5V598.0H345.9V599.9H346.2V597.9H346.6V596.0H346.9V597.9H347.2V594.6H347.6V593.9H348.0V592.7H348.4V588.8H348.8V591.5H349.2V588.9H349.6V587.7H350.0V586.9H350.4V587.5H350.8V584.1H351.1V585.9H351.5V581.2H351.9V581.8H352.3V583.6H352.7V581.5H353.1V574.4H353.5V582.8H353.9V579.6H354.2V577.7H354.6V577.0H355.0V575.1H355.4V577.0H355.8V576.4H356.2V575.8H356.6V576.4H357.0V571.9H357.4V572.5H357.7V575.8H358.1V566.0H358.5V570.6H358.9V571.2H359.2V573.2H359.6V572.6H359.9V575.9H360.3V571.4H360.6V577.3H361.0V575.4H361.4V575.2H361.7V572.4H362.1V576.1H362.5V574.6H362.9V577.0H363.2V576.9H363.6V575.4H364.0V573.9H364.4V575.0H364.7V574.8H365.1V573.3H365.5V570.3H365.8V573.9H366.2V572.2H366.6V574.4H367.0V568.8H367.3V572.4H367.7V568.1H368.1V570.3H368.5V567.3H368.8V567.0H369.2V569.2H369.6V570.5H370.0V561.4H370.4V567.9H370.8V567.9H371.1V571.8H371.5V567.9H371.9V566.6H372.3V569.2H372.7V570.9H373.1V570.0H373.5V565.2H373.9V563.0H374.2V562.1H374.6V565.1H375.0V560.3H375.4V562.0H375.7V563.6H376.0V562.7H376.4V565.4H376.7V568.1H377.1V565.6H377.4V566.9H377.8V568.3H378.1V571.0H378.5V567.8H378.8V568.5H379.1V564.0H379.5V563.4H379.9V564.1H380.2V559.6H380.6V557.9H380.9V557.5H381.3V554.6H381.7V551.6H382.1V548.6H382.4V544.4H382.8V550.5H383.2V546.2H383.6V538.4H383.9V542.4H384.2V537.2H384.6V538.5H384.9V532.1H385.3V530.8H385.6V529.4H386.0V530.6H386.4V524.0H386.7V525.3H387.0V525.2H387.4V522.5H387.8V519.8H388.2V519.7H388.6V518.3H388.9V519.5H389.3V516.7H389.7V511.4H390.1V510.0H390.5V511.2H390.8V509.5H391.2V507.8H391.5V506.1H391.9V514.7H392.2V509.1H392.6V507.3H393.0V508.2H393.4V511.6H393.7V511.2H394.1V512.0H394.5V515.4H394.8V512.2H395.2V515.6H395.5V516.4H395.9V515.9H396.2V515.3H396.6V517.4H397.0V517.1H397.3V516.9H397.6V515.3H398.0V511.1H398.4V512.2H398.7V508.0H399.1V507.8H399.4V505.1H399.8V507.5H400.2V509.9H400.6V507.1H400.9V504.4H401.3V504.2H401.7V509.2H402.1V505.1H402.4V507.6H402.8V506.1H403.2V508.1H403.6V504.8H404.0V505.5H404.4V502.2H404.7V502.9H405.1V501.0H405.5V501.6H405.9V501.0H406.3V501.5H406.7V498.1H407.1V501.3H407.4V496.6H407.8V499.7H408.2V497.7H408.6V496.9H409.0V494.8H409.4V495.8H409.7V494.1H410.1V492.4H410.4V496.0H410.8V490.4H411.1V492.7H411.5V496.9H411.9V493.2H412.2V498.6H412.6V498.9H413.0V503.3H413.4V502.5H413.8V506.9H414.2V506.1H414.6V507.5H415.0V506.3H415.4V509.1H415.8V509.2H416.2V513.2H416.6V512.6H417.0V513.2H417.4V517.8H417.8V521.0H418.1V516.5H418.5V519.7H418.9V516.5H419.3V518.4H419.7V518.3H420.1V527.2H420.5V528.4H420.9V520.4H421.2V521.6H421.6V525.4H422.0V526.5H422.4V527.7H422.8V528.7H423.2V528.5H423.6V537.3H423.9V529.2H424.3V535.4H424.7V531.2H425.1V537.5H425.5V535.9H425.9V538.6H426.2V537.4H426.6V538.8H426.9V538.8H427.2V542.8H427.6V544.2H428.0V545.8H428.4V543.6H428.8V547.8H429.2V550.8H429.6V552.4H430.0V557.3H430.4V555.8H430.8V558.1H431.2V561.7H431.6V564.8H431.9V565.3H432.3V565.8H432.7V568.9H433.1V572.4H433.4V570.6H433.8V572.8H434.1V571.1H434.4V571.9H434.8V574.1H435.1V575.8H435.5V580.1H435.9V580.5H436.2V581.0H436.5V584.0H436.9V584.4H437.2V588.1H437.5V586.6H437.9V586.5H438.2V583.7H438.5V590.0H438.9V593.9H439.3V593.8H439.6V592.5H440.0V595.1H440.4V596.3H440.8V594.4H441.1V602.1H441.5V601.7H441.9V601.4H442.3V599.8H442.6V604.6H443.0V609.4H443.4V607.8H443.7V610.9H444.1V614.1H444.5V610.9H444.8V617.3H445.2V615.7H445.6V616.9H445.9V618.1H446.3V622.5H446.7V618.9H447.0V623.4H447.4V626.2H447.8V627.4H448.1V627.0H448.5V626.6H448.9V627.2H449.3V631.0H449.7V626.8H450.1V627.4H450.5V631.2H450.9V628.6H451.3V630.8H451.7V633.0H452.1V632.0H452.5V629.4H452.9V633.2H453.3V630.4H453.7V630.8H454.1V634.4H454.5V634.8H454.9V633.6H455.2V635.6H455.6V639.2H456.0V638.0H456.4V635.2H456.8V634.0H457.2V637.6H457.6V638.3H457.9V629.4H458.3V636.6H458.7V650.1H459.0V644.4H459.4V642.0H459.8V645.9H460.1V646.6H460.5V644.1H460.9V646.4H461.2V647.2H461.6V646.3H462.0V646.8H462.4V645.6H462.8V646.1H463.2V648.2H463.6V648.7H464.0V647.5H464.4V652.8H464.7V653.3H465.1V652.1H465.5V654.2H465.9V649.9H466.3V661.6H466.7V650.8H467.1V652.9H467.5V656.4H467.9V655.1H468.3V652.2H468.7V652.6H469.1V659.3H469.5V653.2H469.9V655.1H470.2V652.2H470.6V660.5H471.0V664.0H471.4V653.2H471.8V655.1H472.2V658.6H472.6V657.3H473.0V654.2H473.4V659.1H473.8V660.8H474.2V657.8H474.6V654.7H475.0V661.2H475.4V659.7H475.8V656.6H476.2V659.9H476.6V655.3H477.0V660.2H477.4V657.1H477.8V658.8H478.2V658.9H478.6V655.8H479.0V657.6H479.4V657.7H479.8V664.2H480.2V659.5H480.6V656.4H481.0V662.8H481.4V658.1H481.7V658.1H482.1V656.6H482.5V659.8H482.9V656.7H483.3V656.7H483.7V661.6H484.0V660.0H484.4V661.7H484.8V660.2H485.2V658.6H485.6V657.1H486.0V655.5H486.4V658.8H486.7V663.6H487.1V663.7H487.5V658.9H487.9V660.6H488.3V659.0H488.7V657.5H489.0V662.3H489.4V657.6H489.8V660.8H490.2V662.5H490.6V660.9H491.0V664.2H491.3V657.8H491.7V662.7H492.1V659.5H492.5V664.4H492.9V658.0H493.3V664.5H493.6V659.7H494.0V664.6H494.4V658.2H494.8V661.5H495.2V659.9H495.6V663.2H495.9V663.2H496.3V660.1H496.7V661.7H497.1V665.5H497.5V665.4H497.8V658.4H498.2V657.8H498.6V652.4H499.0V656.7H499.4V654.5H499.8V658.7H500.1V653.3H500.5V652.8H500.9V655.4H501.3V653.4H501.6V652.9H502.0V655.7H502.4V652.0H502.8V653.2H503.1V655.9H503.5V655.5H503.9V651.8H504.3V653.0H504.6V652.5H505.0V650.5H505.4V651.9H505.8V651.0H506.2V652.4H506.5V649.3H506.9V646.3H507.3V649.8H507.7V657.8H508.1V648.1H508.5V647.3H508.8V639.8H509.2V641.2H509.6V638.1H510.0V639.5H510.4V641.2H510.8V642.9H511.2V642.4H511.5V635.3H511.9V637.0H512.3V634.3H512.7V631.6H513.1V633.3H513.5V639.4H513.8V641.1H514.2V631.8H514.6V631.3H515.0V633.0H515.4V630.4H515.8V630.0H516.2V631.8H516.5V635.9H516.9V626.7H517.3V632.9H517.7V625.9H518.1V632.1H518.5V629.5H518.8V624.8H519.2V626.6H519.6V626.2H520.0V628.0H520.4V629.8H520.8V631.6H521.2V622.4H521.5V622.1H521.9V623.9H522.3V627.9H522.7V625.3H523.1V622.7H523.5V620.1H523.8V619.8H524.2V628.2H524.6V619.0H525.0V623.0H525.4V627.0H525.8V624.4H526.2V626.2H526.5V621.5H526.9V616.7H527.3V616.3H527.7V624.7H528.1V613.3H528.5V626.1H528.8V617.0H529.2V616.6H529.6V616.2H530.0V618.0H530.4V619.7H530.8V612.5H531.2V612.0H531.5V613.6H531.9V606.5H532.3V610.4H532.7V609.8H533.1V611.5H533.5V608.8H533.8V610.4H534.2V616.5H534.6V609.3H535.0V611.0H535.4V610.5H535.8V607.9H536.2V611.8H536.5V604.8H536.9V613.1H537.3V608.2H537.7V607.8H538.1V602.9H538.5V602.4H538.8V610.8H539.2V610.3H539.6V605.5H540.0V605.0H540.4V609.4H540.8V609.4H541.2V600.6H541.6V602.8H542.0V602.8H542.4V602.8H542.8V600.7H543.2V607.3H543.6V618.3H544.0V602.9H544.4V602.9H544.8V605.1H545.2V602.9H545.6V605.1H546.0V605.1H546.3V600.7H546.7V613.9H547.1V602.9H547.5V600.8H547.9V611.8H548.3V609.6H548.7V609.6H549.1V600.8H549.5V603.0H549.9V600.8H550.3V605.2H550.7V609.6H551.1V600.8H551.5V603.0H551.9V605.2H552.3V609.6H552.7V600.9H553.1V600.9H553.5V607.5H553.9V609.7H554.3V614.1H554.7V603.1H555.1V605.3H555.5V600.9H555.9V603.1H556.3V605.3H556.7V600.9H557.1V609.7H557.5V605.3H557.9V609.8H558.3V603.2H558.7V607.6H559.0V607.6H559.4V605.4H559.8V601.0H560.2V607.6H560.6V603.2H561.0V607.6H561.4V601.0H561.8V609.8H562.2V605.4H562.6V605.5H563.0V607.7H563.4V603.3H563.8V603.3H564.2V601.1H564.6V603.3H565.0V605.5H565.4V606.6H565.8V598.9H566.2V600.0H566.6V596.7H567.0V600.0H567.4V597.8H567.8V589.0H568.2V600.0H568.6V602.2H569.0V604.4H569.4V595.6H569.8V597.8H570.2V591.2H570.6V597.8H571.0V604.4H571.4V602.2H571.8V595.6H572.2V586.8H572.6V595.6H572.9V604.4H573.3V597.8H573.7V600.0H574.1V597.8H574.5V595.6H574.9V595.6H575.3V595.6H575.7V604.4H576.1V602.2H576.5V604.4H576.9V597.8H577.3V597.8H577.7V600.0H578.1V595.6H578.5V597.8H578.9V595.6H579.3V595.6H579.7V586.8H580.1V604.4H580.5V595.6H580.9V604.4H581.3V595.6H581.7V600.0H582.1V600.0H582.5V597.8H582.9V595.6H583.3V595.6H583.7V604.4H584.1V602.2H584.4V602.2H584.8V604.4H585.2V595.6H585.6V595.6H586.0V604.4H586.4V597.8H586.8V595.6H587.2V604.4H587.6V600.0H588.0V611.0H588.4V597.8H588.8V602.2H589.2V604.4H589.6V604.4H590.0V600.0H590.4V605.6H590.8V604.6H591.2V605.8H591.6V600.4H592.0V606.0H592.4V611.5H592.8V608.3H593.2V613.9H593.6V612.8H594.0V616.1H594.4V612.9H594.8V616.2H595.2V628.4H595.6V614.1H596.0V617.5H596.4V613.9H596.8V630.1H597.2V615.5H597.6V620.7H598.0V619.3H598.4V624.5H598.8V623.1H599.2V626.1H599.6V624.7H600.0V625.5H600.4V625.8H600.8V632.8H601.2V630.9H601.5V626.9H601.9V631.6H602.3V623.2H602.7V630.1H603.1V630.5H603.5V628.6H603.8V631.2H604.2V631.5H604.6V629.7H605.0V630.0H605.4V632.8H605.8V635.6H606.2V634.0H606.5V632.5H606.9V630.9H607.3V631.5H607.7V636.5H608.1V632.7H608.5V637.7H608.8V647.2H609.2V639.0H609.6V633.0H610.0V638.0H610.4V636.3H610.8V643.3H611.2V637.2H611.5V635.4H611.9V640.3H612.3V640.8H612.7V639.0H613.1V639.5H613.5V646.6H613.8V644.8H614.2V647.5H614.6V641.3H615.0V644.0H615.4V639.3H615.8V647.8H616.2V640.9H616.5V647.2H616.9V644.7H617.3V642.2H617.7V644.0H618.1V637.1H618.5V641.2H618.8V645.3H619.2V645.0H619.6V644.7H620.0V640.0H620.4V639.5H620.8V639.1H621.2V638.6H621.5V636.0H621.9V633.3H622.3V619.6H622.7V632.4H623.1V636.3H623.5V633.6H623.8V635.4H624.2V634.9H624.6V630.1H625.0V634.0H625.4V638.2H625.8V629.3H626.2V631.3H626.5V631.2H626.9V635.4H627.3V630.9H627.7V628.5H628.1V635.0H628.5V628.2H628.8V634.7H629.2V636.7H629.6V634.4H630.0V632.0H630.4V629.8H630.8V636.4H631.2V629.8H631.6V634.2H632.0V632.0H632.4V634.2H632.8V636.4H633.2V636.4H633.6V627.6H634.0V629.8H634.4V629.8H634.8V629.8H635.2V634.2H635.6V632.0H636.0V632.0H636.4V634.2H636.8V634.2H637.2V632.0H637.6V636.4H638.0V629.8H638.4V634.2H638.8V627.6H639.2V634.2H639.6V627.6H640.0V632.0H640.4V633.7H640.8V626.6H641.2V628.3H641.6V630.0H642.0V629.5H642.4V633.9H642.8V629.5H643.2V633.9H643.6V631.7H644.0V627.3H644.4V633.9H644.8V627.3H645.2V627.3H645.5V625.1H645.9V647.1H646.3V631.7H646.7V625.1H647.1V616.3H647.5V629.5H647.9V625.1H648.3V627.3H648.7V627.3H649.1V625.1H649.5V629.5H649.9V620.7H650.3V629.5H650.7V633.9H651.1V627.3H651.5V631.7H651.8V642.7H652.2V625.1H652.6V633.9H653.0V629.5H653.4V622.9H653.8V629.5H654.2V631.7H654.6V631.7H655.0V629.5H655.4V634.3H655.8V634.7H656.2V626.3H656.6V631.1H657.0V631.5H657.4V633.7H657.8V631.5H658.2V635.9H658.6V633.7H659.0V627.1H659.4V633.7H659.8V631.5H660.2V624.9H660.5V631.5H660.9V629.3H661.3V635.9H661.7V627.1H662.1V629.3H662.5V620.5H662.9V627.1H663.3V633.7H663.7V635.9H664.1V629.3H664.5V631.5H664.9V631.5H665.3V635.9H665.7V627.1H666.1V631.5H666.5V629.3H666.8V631.5H667.2V635.9H667.6V640.3H668.0V633.7H668.4V629.3H668.8V631.5H669.2V635.9H669.6V631.5H670.0V631.5H670.4V628.0H670.8V624.5H671.2V625.4H671.6V621.9H672.0V625.0H672.4V624.5H672.8V624.1H673.2V619.2H673.6V623.1H674.0V624.9H674.4V617.8H674.8V626.1H675.2V625.7H675.6V623.0H676.0V622.5H676.4V615.5H676.8V617.2H677.2V605.7H677.6V622.9H678.0V618.0H678.4V615.6H678.8V622.0H679.2V612.9H679.6V617.1H679.9V614.7H680.3V618.9H680.7V616.4H681.1V611.8H681.5V611.6H681.9V615.8H682.3V611.2H682.7V619.7H683.1V617.3H683.4V610.5H683.8V614.7H684.2V610.0H684.6V616.4H685.0V614.0H685.4V622.8H685.8V627.1H686.2V618.3H686.6V618.3H687.0V611.7H687.4V618.2H687.8V609.4H688.2V613.8H688.6V618.2H688.9V618.1H689.3V611.5H689.7V611.5H690.1V615.9H690.5V615.8H690.9V618.0H691.3V613.6H691.7V615.8H692.1V617.9H692.5V613.5H692.9V617.9H693.3V617.8H693.7V617.8H694.1V609.0H694.5V617.8H694.9V611.1H695.3V615.5H695.7V613.3H696.1V615.5H696.4V613.2H696.8V608.8H697.2V615.4H697.6V611.0H698.0V617.5H698.4V617.5H698.8V617.5H699.2V615.3H699.6V610.8H700.0V613.0H700.4V614.2H700.8V613.2H701.2V605.6H701.6V609.0H702.0V608.0H702.4V603.6H702.8V608.0H703.2V603.6H703.6V608.0H704.0V619.0H704.4V610.2H704.8V612.4H705.2V594.8H705.6V610.2H706.0V603.6H706.4V603.6H706.8V610.2H707.2V608.0H707.6V605.8H708.0V610.2H708.4V603.6H708.8V605.8H709.2V590.4H709.6V612.4H710.0V608.0H710.4V610.2H710.8V610.2H711.2V605.8H711.6V610.2H712.0V612.4H712.4V612.4H712.8V610.2H713.2V608.0H713.6V605.8H714.0V610.2H714.4V610.2H714.8V605.8H715.2V612.4H715.6V605.8H716.0V612.4H716.4V608.0H716.8V612.4H717.2V612.4H717.6V603.6H718.0V612.4H718.4V608.0H718.8V603.6H719.2V612.4H719.6V603.6H720.0V608.0H720.4V612.4H720.8V608.0H721.2V605.8H721.6V605.8H722.0V608.0H722.4V612.4H722.8V612.4H723.2V608.0H723.6V619.0H724.0V608.0H724.4V608.0H724.8V612.4H725.2V605.8H725.6V608.0H726.0V610.2H726.4V608.0H726.8V612.4H727.2V605.8H727.6V608.0H728.0V603.6H728.4V612.4H728.8V603.6H729.2V599.2H729.6V608.0H730.0V610.2H730.4V605.8H730.8V608.0H731.2V610.2H731.6V608.0H732.0V610.2H732.4V610.2H732.8V605.8H733.2V610.2H733.6V608.0H734.0V610.2H734.4V610.2H734.8V603.6H735.2V610.2H735.6V603.6H736.0V605.8H736.4V605.8H736.8V608.0H737.2V608.0H737.6V603.6H738.0V608.0H738.4V605.8H738.8V605.8H739.2V608.0H739.6V612.4H740.0V608.0H740.4V613.3H740.8V607.6H741.2V608.5H741.6V609.4H742.0V612.5H742.4V608.2H742.8V610.4H743.2V608.3H743.6V612.8H744.0V612.9H744.4V617.4H744.8V617.4H745.2V610.9H745.6V613.2H746.0V613.2H746.4V608.9H746.8V609.0H747.2V615.7H747.6V611.3H748.0V613.6H748.4V615.9H748.8V618.2H749.2V613.9H749.6V613.9H750.0V614.0H750.4V614.8H750.8V617.7H751.2V616.3H751.5V617.1H751.9V622.2H752.3V623.0H752.7V621.6H753.1V615.8H753.5V623.1H753.8V617.3H754.2V622.5H754.6V618.8H755.0V624.0H755.4V622.3H755.8V629.5H756.2V621.2H756.5V624.0H756.9V624.5H757.3V629.4H757.7V632.2H758.1V630.5H758.5V624.4H758.8V631.6H759.2V632.1H759.6V634.9H760.0V631.0H760.4V632.7H760.8V634.4H761.2V629.3H761.6V631.0H762.0V632.7H762.4V627.6H762.8V634.4H763.2V627.6H763.6V634.4H763.9V629.3H764.3V632.7H764.7V631.0H765.1V634.4H765.5V627.6H765.9V629.3H766.3V634.4H766.7V631.0H767.1V634.4H767.5V634.4H767.9V629.3H768.3V634.4H768.7V632.7H769.1V632.7H769.5V629.3H769.9V632.7H770.3V629.3H770.7V634.4H771.1V634.4H771.4V634.4H771.8V634.4H772.2V629.3H772.6V634.4H773.0V631.0H773.4V634.4H773.8V631.0H774.2V620.8H774.6V629.3H775.0V631.0H775.4V629.2H775.8V630.8H776.2V634.1H776.6V639.1H777.0V639.0H777.4V640.7H777.8V635.6H778.2V639.0H778.6V637.3H779.0V637.3H779.4V639.0H779.8V642.4H780.2V642.4H780.6V637.3H781.0V635.6H781.4V640.7H781.8V642.4H782.2V639.0H782.6V635.6H783.0V639.0H783.4V642.4H783.8V640.7H784.2V637.3H784.6V642.4H785.0V639.0H785.4V637.7H785.8V639.8H786.2V640.2H786.6V638.9H787.0V641.0H787.4V639.3H787.8V637.6H788.2V637.6H788.6V641.0H789.0V642.7H789.4V637.6H789.8V642.7H790.2V637.6H790.6V644.4H791.0V641.0H791.4V637.6H791.8V644.4H792.1V644.4H792.5V639.3H792.9V642.7H793.3V641.0H793.7V642.7H794.1V639.3H794.5V637.6H794.9V637.6H795.3V642.7H795.7V642.7H796.1V641.0H796.5V639.3H796.9V639.3H797.3V639.3H797.7V644.4H798.1V644.4H798.5V644.4H798.9V642.7H799.3V639.3H799.7V634.2H800.1V642.7H800.5V641.0H800.9V642.7H801.2V644.4H801.6V644.4H802.0V641.0H802.4V642.7H802.8V642.7H803.2V641.0H803.6V637.6H804.0V644.4H804.4V637.6H804.8V641.0H805.2V641.0H805.6V637.6H806.0V641.0H806.4V643.9H806.8V640.0H807.2V639.5H807.6V640.7H808.0V638.5H808.4V641.9H808.8V636.8H809.2V641.9H809.6V638.5H810.0V641.9H810.4V635.1H810.8V641.9H811.2V635.1H811.6V638.5H812.0V641.9H812.4V635.1H812.8V635.1H813.2V640.2H813.6V635.1H814.0V640.2H814.4V638.5H814.8V638.5H815.2V638.5H815.6V636.8H816.0V641.9H816.4V635.1H816.8V635.1H817.2V628.3H817.6V635.1H818.0V636.8H818.4V641.9H818.8V640.2H819.2V641.9H819.6V641.9H820.0V641.9H820.4V638.5H820.8V640.2H821.2V640.2H821.6V640.2H822.0V648.7H822.4V635.1H822.8V640.2H823.2V640.2H823.6V638.5H824.0V638.5H824.4V641.9H824.8V638.5H825.2V636.8H825.6V641.9H826.0V640.2H826.4V650.4H826.8V636.8H827.2V635.1H827.6V635.1H828.0V635.1H828.4V638.5H828.8V647.0H829.2V638.5H829.6V635.1H830.0V638.5H830.4V635.8H830.8V650.1H831.2V640.6H831.6V637.9H832.0V642.0H832.4V642.1H832.8V650.7H833.2V639.0H833.6V640.8H834.0V646.0H834.4V639.3H834.8V639.4H835.2V644.6H835.6V639.6H836.0V646.6H836.4V641.6H836.8V641.7H837.2V641.8H837.6V647.0H838.0V640.4H838.4V640.5H838.8V647.4H839.2V644.1H839.6V640.8H840.0V647.7H840.4V641.1H840.8V641.2H841.2V648.1H841.6V643.1H842.0V644.9H842.4V646.7H842.8V641.8H843.2V647.0H843.6V643.7H844.0V645.5H844.4V643.2H844.8V647.7H845.2V647.1H845.6V656.7H846.0V651.0H846.4V647.6H846.8V654.4H847.2V649.3H847.6V652.7H848.0V649.3H848.4V651.0H848.8V651.0H849.2V652.7H849.6V649.3H850.0V651.0H850.4V652.7H850.8V651.0H851.2V651.0H851.6V652.7H852.0V651.0H852.4V654.4H852.8V652.7H853.2V652.7H853.6V654.4H854.0V652.7H854.4V647.6H854.8V647.6H855.2V652.7H855.6V654.4H856.0V651.0H856.4V654.4H856.8V647.6H857.2V649.3H857.6V649.3H858.0V649.3H858.4V647.6H858.8V652.7H859.2V647.6H859.6V654.4H860.0V651.0H860.4V652.7H860.8V654.4H861.2V651.0H861.6V652.7H862.0V652.7H862.4V647.6H862.8V654.4H863.2V647.6H863.6V649.3H864.0V649.3H864.4V647.6H864.8V640.8H865.2V654.4H865.6V654.4H866.0V652.7H866.4V652.7H866.8V649.3H867.2V654.4H867.6V652.7H868.0V651.0H868.4V653.6H868.8V651.1H869.2V645.2H869.6V649.5H870.0V647.0H870.4V647.0H870.8V647.0H871.2V647.0H871.6V643.6H872.0V645.3H872.4V648.7H872.8V647.0H873.2V647.0H873.6V653.8H873.9V643.6H874.3V643.6H874.7V647.0H875.1V647.0H875.5V647.0H875.9V647.0H876.3V653.8H876.7V648.7H877.1V643.6H877.5V648.7H877.9V647.0H878.3V643.6H878.7V650.4H879.1V648.7H879.5V648.7H879.9V643.6H880.3V645.3H880.7V647.0H881.1V645.3H881.4V650.4H881.8V648.7H882.2V641.9H882.6V647.0H883.0V648.7H883.4V648.7H883.8V647.0H884.2V647.0H884.6V643.6H885.0V647.0H885.4V650.6H885.8V639.0H886.2V647.7H886.5V644.5H886.9V646.5H887.3V648.4H887.7V635.0H888.1V652.2H888.5V645.7H888.8V647.6H889.2V646.1H889.6V653.2H890.0V650.0H890.4V653.7H890.8V652.3H891.2V650.9H891.5V651.2H891.9V654.9H892.3V648.4H892.7V652.2H893.1V655.9H893.5V654.5H893.8V653.1H894.2V653.4H894.6V648.6H895.0V654.0H895.4V664.5H895.8V654.6H896.2V653.1H896.6V653.4H897.0V655.4H897.4V659.1H897.8V659.4H898.2V659.6H898.6V656.5H899.0V660.2H899.4V657.1H899.8V659.1H900.2V659.3H900.6V654.5H901.0V659.9H901.4V660.2H901.8V655.4H902.2V657.3H902.6V662.7H903.0V663.0H903.4V663.3H903.8V656.8H904.2V657.0H904.6V662.4H905.0V661.0H905.4V662.7H905.8V664.4H906.2V659.3H906.6V662.8H907.0V662.8H907.4V659.4H907.8V664.5H908.2V657.7H908.6V662.8H909.0V661.1H909.4V650.9H909.8V659.5H910.2V661.2H910.6V661.2H911.0V661.2H911.4V664.6H911.8V657.8H912.2V662.9H912.6V663.0H913.0V664.7H913.4V659.6H913.8V663.0H914.2V661.3H914.6V664.7H915.0V665.5H915.4V663.0H915.8V663.1H916.2V661.4H916.6V661.4H917.0V661.4H917.4V658.0H917.8V664.8H918.2V658.0H918.6V661.5H919.0V659.8H919.4V659.8H919.8V665.5H920.2V664.9H920.6V661.5H921.0V661.5H921.4V664.9H921.8V658.2H922.2V659.9H922.6V665.0H923.0V663.3H923.4V658.2H923.8V661.6H924.2V665.0H924.6V661.7H925.0V665.1H925.4V660.0H925.8V660.0H926.2V658.3H926.6V661.7H927.0V660.0H927.4V661.7H927.8V660.1H928.2V663.5H928.6V658.4H929.0V658.4H929.4V663.5H929.8V658.4H930.2V663.5H930.6V660.2H931.0V665.3H931.4V658.5H931.8V661.9H932.2V665.3H932.6V658.5H933.0V665.5H933.4V663.6H933.8V665.4H934.2V663.7H934.6V663.7H935.0V662.0" stroke="#f03e3e" stroke-width="1.35" stroke-dasharray="12.4 6.8"/>
<path d="M214.5 666.5H214.9V653.2H215.2V639.0H215.6V624.9H216.0V610.0H216.3V596.0H216.7V583.5H217.0V571.0H217.3V557.0H217.6V538.8H217.9V519.8H218.2V500.0H218.4V485.3H218.6V469.0H218.8V454.5H219.0V440.0H219.3V400.0H219.6V377.0H219.8V365.7H220.1V356.0H220.3V346.0H220.5V336.0H220.8V326.3H221.2V315.0H221.5V310.1H221.9V308.3H222.2V305.0H222.6V292.4H222.9V278.9H223.3V267.1H223.7V254.4H224.0V261.6H224.3V267.2H224.7V273.6H225.0V280.0H225.3V284.1H225.7V288.2H226.0V292.3H226.3V284.0H226.7V273.3H227.0V265.0H227.3V256.7H227.5V247.5H227.8V240.0H228.1V235.6H228.4V231.3H228.7V226.9H229.0V223.2H229.4V218.0H229.7V213.5H230.0V211.0H230.3V208.5H230.7V206.0H231.0V202.7H231.3V201.0H231.7V197.2H232.1V193.3H232.4V189.4H232.8V185.6H233.1V177.5H233.4V169.4H233.7V160.7H233.9V151.9H234.2V145.7H234.4V139.5H234.8V141.6H235.2V143.6H235.5V145.6H235.9V147.7H236.2V149.1H236.6V150.5H236.9V152.7H237.3V152.4H237.7V155.4H238.0V156.0H238.3V158.7H238.7V160.7H239.0V164.2H239.4V163.0H239.8V167.4H240.2V163.0H240.6V163.4H241.0V162.2H241.3V159.1H241.6V156.0H241.9V154.0H242.3V150.5H242.6V147.7H243.0V144.8H243.3V142.8H243.7V141.5H244.1V140.8H244.4V137.6H244.8V136.9H245.2V135.4H245.5V133.7H245.8V131.3H246.2V130.4H246.5V128.8H246.8V127.1H247.1V125.0H247.3V123.0H247.6V120.6H248.0V118.2H248.3V115.8H248.7V110.7H249.1V105.5H249.4V103.8H249.6V100.5H249.9V98.0H250.1V91.8H250.4V86.5H250.7V79.6H251.0V79.4H251.3V77.6H251.6V76.6H251.9V75.6H252.1V73.2H252.3V70.7H252.6V69.7H252.9V67.0H253.3V65.2H253.6V63.4H253.8V58.5H254.0V53.7H254.4V50.8H254.8V48.0H255.2V45.1H255.6V46.8H255.9V46.8H256.3V47.7H256.6V49.3H257.0V49.4H257.4V48.7H257.7V51.1H258.1V52.0H258.4V53.6H258.8V53.7H258.9V67.5H259.2V73.5H259.6V79.6H259.9V85.7H260.2V91.9H260.5V98.0H260.7V110.6H260.9V118.3H261.2V126.0H261.4V130.4H261.7V136.4H261.9V140.0H262.2V143.6H262.6V144.6H262.9V146.4H263.2V146.7H263.6V147.7H263.8V159.0H264.1V154.1H264.5V150.8H264.8V146.7H265.1V142.9H265.5V140.0H265.8V135.4H266.2V131.9H266.5V128.5H266.9V125.0H267.2V122.3H267.5V122.0H267.8V119.2H268.1V117.3H268.4V119.5H268.8V120.9H269.1V123.8H269.4V126.0H269.7V128.7H269.9V133.7H270.2V136.4H270.5V143.6H270.8V147.8H271.0V151.9H271.2V161.5H271.5V169.4H271.9V173.0H272.2V174.1H272.6V178.5H273.0V180.5H273.3V185.7H273.7V190.8H274.0V196.0H274.4V201.1H274.7V207.1H275.1V211.4H275.4V214.8H275.8V217.5H276.1V221.7H276.5V223.4H276.8V223.4H277.1V225.1H277.5V226.0H277.9V226.8H278.2V226.9H278.5V228.6H278.9V230.3H279.2V232.0H279.6V232.6H279.9V233.2H280.3V233.8H280.7V234.3H281.1V234.9H281.4V234.7H281.8V236.1H282.2V238.3H282.6V238.1H283.0V240.2H283.4V241.6H283.8V243.0H284.2V244.4H284.4V250.3H284.7V253.9H285.1V259.8H285.4V265.8H285.8V268.2H286.1V270.6H286.4V273.8H286.8V274.6H287.1V278.6H287.5V280.2H287.9V279.5H288.2V279.7H288.6V279.8H288.9V280.8H289.3V280.9H289.6V281.1H290.0V281.2H290.4V284.6H290.7V284.1H291.1V291.5H291.4V296.7H291.8V302.6H292.1V307.0H292.4V313.2H292.6V319.4H292.9V322.4H293.1V325.3H293.4V330.5H293.7V335.6H294.1V335.2H294.5V337.3H294.9V338.5H295.3V340.6H295.7V341.8H296.1V341.9H296.4V339.6H296.8V339.8H297.1V339.1H297.4V338.4H297.8V337.7H298.2V337.9H298.6V339.7H299.0V340.0H299.4V341.8H299.8V342.8H300.2V345.0H300.6V347.2H301.0V345.1H301.4V345.9H301.7V352.1H302.1V350.0H302.4V356.2H302.8V361.0H303.1V371.5H303.5V366.5H303.8V374.8H304.2V378.9H304.5V387.2H304.8V388.2H305.0V386.5H305.3V390.3H305.6V394.1H306.0V397.8H306.3V405.8H306.7V406.2H307.1V406.6H307.5V407.0H307.9V404.6H308.2V410.5H308.6V405.3H309.0V411.3H309.4V408.9H309.7V413.1H310.0V413.2H310.4V414.6H310.7V410.5H311.0V416.1H311.3V420.9H311.7V420.2H312.0V426.4H312.3V427.0H312.7V437.5H313.0V436.7H313.4V440.1H313.7V440.8H314.1V447.0H314.4V447.6H314.6V459.4H314.9V459.6H315.1V465.3H315.5V464.6H315.9V472.3H316.2V468.7H316.6V473.6H317.0V472.5H317.4V475.5H317.8V475.8H318.1V477.4H318.5V474.9H318.9V472.3H319.3V474.0H319.7V475.6H320.1V476.2H320.4V475.4H320.8V480.2H321.2V480.7H321.6V477.1H321.9V477.7H322.3V479.7H322.7V482.6H323.1V485.6H323.5V484.3H323.9V485.9H324.3V487.6H324.7V490.7H325.1V498.0H325.5V496.9H325.9V501.4H326.2V505.9H326.6V504.8H326.9V507.9H327.3V511.1H327.6V510.0H328.0V511.7H328.4V514.3H328.8V525.2H329.1V522.2H329.5V522.0H329.9V526.1H330.2V528.9H330.6V534.4H330.9V537.2H331.1V537.2H331.5V537.4H331.9V543.1H332.2V546.1H332.6V543.4H333.0V541.6H333.4V544.1H333.8V543.7H334.2V547.5H334.6V547.9H335.0V546.9H335.4V548.7H335.8V551.8H336.1V546.6H336.5V549.8H336.9V547.4H337.3V550.6H337.7V553.4H338.1V550.7H338.5V554.9H338.9V556.4H339.3V557.8H339.6V567.2H340.0V566.9H340.4V562.3H340.7V564.7H341.0V564.4H341.4V564.0H341.7V568.5H342.1V567.5H342.4V569.2H342.8V572.0H343.1V574.7H343.5V573.3H343.9V571.8H344.2V575.9H344.6V577.2H345.0V578.5H345.4V577.5H345.8V576.4H346.1V575.3H346.5V574.3H346.9V576.1H347.2V573.6H347.6V568.4H347.9V573.0H348.2V567.7H348.6V568.1H349.0V568.5H349.3V568.9H349.6V565.0H350.0V566.8H350.4V563.0H350.7V562.0H351.1V562.8H351.5V559.3H351.9V557.2H352.2V562.2H352.6V560.1H353.0V558.1H353.4V554.6H353.8V556.8H354.2V553.5H354.6V555.8H355.0V558.1H355.4V554.8H355.7V554.2H356.1V550.9H356.5V550.4H356.9V552.7H357.3V554.7H357.7V548.3H358.1V547.4H358.5V548.0H358.9V548.6H359.3V549.9H359.7V546.9H360.1V546.8H360.4V546.6H360.8V546.5H361.2V546.4H361.6V547.6H362.0V547.5H362.4V545.1H362.8V549.7H363.2V550.1H363.6V551.8H363.9V550.8H364.3V549.8H364.7V550.2H365.1V550.6H365.5V551.3H365.8V543.6H366.1V547.1H366.5V550.7H366.9V545.8H367.2V546.5H367.6V549.1H367.9V548.9H368.3V547.3H368.7V545.7H369.1V545.5H369.4V544.0H369.8V542.4H370.2V542.2H370.6V539.2H370.9V541.8H371.3V544.4H371.7V544.1H372.1V543.9H372.5V542.2H372.9V546.2H373.2V540.4H373.6V542.9H374.0V542.6H374.4V542.4H374.8V538.3H375.1V541.2H375.5V537.2H375.8V534.5H376.2V536.0H376.6V537.0H376.9V533.9H377.2V536.3H377.6V531.7H377.9V535.5H378.3V535.1H378.6V534.8H379.0V533.0H379.4V533.2H379.7V531.9H380.1V529.3H380.5V528.1H380.8V526.8H381.2V525.6H381.6V521.9H382.0V521.0H382.4V518.6H382.8V514.9H383.2V514.0H383.5V515.0H383.8V509.0H384.2V500.2H384.5V505.4H384.8V505.0H385.1V499.2H385.5V494.7H385.8V491.7H386.2V492.5H386.5V486.2H386.9V481.4H387.3V474.6H387.6V477.6H388.0V472.3H388.4V471.1H388.7V470.8H389.0V466.4H389.4V463.3H389.7V461.7H390.0V462.8H390.4V462.8H390.8V464.2H391.1V462.8H391.5V465.6H391.9V462.8H392.2V462.8H392.6V460.0H393.0V462.8H393.4V461.7H393.7V463.5H394.1V468.0H394.5V466.4H394.8V474.5H395.2V464.5H395.5V474.1H395.9V475.3H396.2V472.2H396.6V476.2H397.0V482.1H397.3V483.8H397.7V485.5H397.9V474.7H398.2V463.9H398.6V465.2H399.0V465.1H399.4V466.4H399.7V464.9H400.1V464.8H400.5V466.2H400.9V461.9H401.3V464.6H401.6V464.5H402.0V464.4H402.4V461.5H402.8V462.8H403.1V468.7H403.4V469.0H403.8V469.4H404.1V466.9H404.5V460.3H404.8V462.1H405.2V461.1H405.5V465.6H405.9V461.8H406.3V456.6H406.6V454.2H407.0V454.6H407.3V451.8H407.7V449.1H408.0V446.3H408.4V451.9H408.8V443.5H409.2V446.3H409.6V443.5H409.9V444.9H410.3V443.5H410.7V446.3H411.1V446.3H411.4V447.3H411.8V448.4H412.1V453.6H412.3V460.8H412.7V461.1H413.0V461.3H413.4V464.4H413.8V464.6H414.1V464.9H414.5V465.1H414.8V463.9H415.2V462.8H415.4V464.2H415.7V471.1H416.0V467.9H416.3V470.3H416.7V474.2H417.0V476.6H417.3V476.2H417.7V479.3H418.1V478.1H418.5V477.0H418.9V478.6H419.2V477.5H419.6V480.6H420.0V479.4H420.4V478.3H420.7V483.8H421.1V476.8H421.4V486.5H421.7V487.5H422.1V488.6H422.4V493.8H422.8V494.1H423.1V491.7H423.4V493.4H423.8V492.3H424.1V496.9H424.5V495.8H424.8V497.9H425.2V498.5H425.5V502.0H425.9V502.3H426.2V508.2H426.6V509.9H426.9V508.9H427.2V510.6H427.6V512.3H427.9V514.7H428.3V515.7H428.6V515.3H429.0V519.8H429.3V518.7H429.6V520.5H430.0V518.0H430.4V523.9H430.7V525.6H431.1V524.9H431.4V527.0H431.8V530.4H432.2V533.9H432.5V537.7H432.9V530.3H433.2V541.1H433.5V542.5H433.8V545.4H434.2V546.8H434.5V545.5H434.8V548.3H435.1V549.7H435.5V551.0H435.9V552.4H436.2V553.8H436.5V555.1H436.9V556.5H437.3V559.6H437.7V562.6H438.1V561.5H438.5V564.5H438.9V564.8H439.3V565.1H439.6V565.4H440.0V569.3H440.4V558.8H440.8V564.5H441.1V563.0H441.5V566.9H441.8V572.1H442.2V573.8H442.5V577.2H442.9V579.6H443.2V574.8H443.6V584.4H444.0V598.1H444.4V593.8H444.8V589.5H445.2V596.0H445.6V597.8H445.9V601.4H446.3V601.5H446.7V599.7H447.0V603.3H447.4V606.9H447.8V611.6H448.1V607.3H448.5V612.0H448.9V611.3H449.2V612.4H449.6V613.5H450.0V608.9H450.3V611.6H450.7V617.8H451.1V620.5H451.4V617.7H451.8V616.8H452.2V615.8H452.5V623.9H452.9V621.1H453.3V621.8H453.7V622.5H454.1V625.0H454.5V627.5H454.9V624.6H455.2V621.7H455.6V624.2H456.0V630.3H456.4V623.8H456.8V631.7H457.2V628.8H457.6V631.3H457.9V630.3H458.3V627.4H458.7V635.3H459.0V634.3H459.4V633.2H459.8V635.7H460.1V636.5H460.5V635.4H460.9V636.2H461.2V633.5H461.6V637.9H462.0V642.4H462.3V637.8H462.7V642.3H463.1V641.3H463.4V640.4H463.8V643.0H464.2V639.2H464.5V639.0H464.9V638.7H465.3V638.5H465.6V638.3H466.0V643.5H466.4V641.4H466.7V637.6H467.1V641.0H467.5V644.0H467.8V641.6H468.2V642.9H468.6V647.7H468.9V643.5H469.3V644.7H469.7V647.8H470.0V649.0H470.4V652.0H470.8V648.2H471.1V649.9H471.5V653.3H471.9V653.1H472.2V647.6H472.6V649.2H473.0V650.8H473.3V650.7H473.7V654.1H474.1V648.5H474.4V641.2H474.8V650.0H475.2V650.3H475.6V650.5H476.0V652.6H476.4V651.1H476.8V651.4H477.1V653.4H477.5V653.7H477.9V652.2H478.3V656.1H478.7V654.5H479.1V653.0H479.5V656.7H479.9V651.3H480.3V651.4H480.7V651.4H481.0V656.9H481.4V653.4H481.8V651.6H482.2V649.9H482.6V649.9H483.0V657.2H483.4V657.2H483.8V653.7H484.1V657.4H484.5V653.8H484.9V657.5H485.3V655.7H485.7V654.0H486.1V655.0H486.4V659.6H486.8V660.6H487.2V658.0H487.5V659.0H487.9V660.0H488.3V660.6H488.6V657.5H489.0V659.9H489.4V662.2H489.7V661.0H490.1V663.3H490.5V665.5H490.8V662.6H491.2V665.0H491.6V664.8H492.0V665.5H492.4V664.3H492.8V665.5H493.2V665.5H493.6V660.0H493.9V665.1H494.3V659.5H494.7V661.1H495.1V651.8H495.5V664.2H495.9V662.2H496.3V665.5H496.7V661.7H497.1V660.4H497.5V655.4H497.8V655.9H498.2V652.7H498.6V655.0H499.0V658.0H499.4V648.4H499.8V653.1H500.2V648.9H500.6V651.9H501.0V651.2H501.4V648.8H501.8V653.6H502.2V651.2H502.6V647.0H503.0V648.1H503.4V643.9H503.8V650.5H504.2V648.0H504.6V654.6H505.0V645.0H505.4V632.1H505.8V645.6H506.2V644.6H506.5V646.1H506.9V638.0H507.3V644.3H507.7V631.3H508.1V644.8H508.5V634.3H508.8V628.6H509.2V634.8H509.6V626.7H510.0V633.0H510.4V629.9H510.8V634.1H511.2V628.6H511.5V630.4H511.9V622.5H512.3V621.9H512.7V630.8H513.1V630.2H513.5V622.3H513.8V626.5H514.2V628.2H514.6V622.8H515.0V624.5H515.4V628.9H515.8V618.9H516.2V620.8H516.5V625.2H516.9V624.8H517.3V624.4H517.7V628.7H518.1V623.5H518.5V625.5H518.8V620.3H519.2V619.8H519.6V624.2H520.0V619.0H520.4V625.6H520.8V613.0H521.2V617.2H521.5V618.9H521.9V611.1H522.3V622.5H522.7V597.9H523.1V611.7H523.5V608.7H523.8V610.4H524.2V617.0H524.6V616.4H525.0V611.0H525.4V605.6H525.8V605.0H526.2V604.4H526.5V603.7H526.9V612.7H527.3V602.5H527.7V613.9H528.1V608.5H528.5V607.9H528.8V602.4H529.2V597.0H529.6V606.0H530.0V603.0H530.4V602.5H530.8V614.1H531.2V596.8H531.5V603.6H531.9V598.3H532.3V602.6H532.7V595.0H533.1V599.3H533.5V603.6H533.8V596.0H534.2V600.3H534.6V595.1H535.0V597.0H535.4V598.9H535.8V595.9H536.2V588.2H536.5V602.0H536.9V596.7H537.3V601.0H537.7V595.6H538.1V597.5H538.5V594.6H538.8V591.6H539.2V595.9H539.6V583.3H540.0V590.0H540.4V592.3H540.8V587.5H541.2V587.4H541.6V585.0H542.0V584.9H542.4V589.7H542.8V587.2H543.2V587.2H543.6V589.5H543.9V589.5H544.3V589.4H544.7V587.0H545.1V582.1H545.5V594.1H545.9V591.6H546.3V582.0H546.7V591.5H547.1V589.1H547.5V591.4H547.9V586.5H548.3V586.5H548.7V584.0H549.1V581.6H549.5V581.5H549.9V588.7H550.3V586.2H550.7V583.8H551.1V595.7H551.4V583.7H551.8V583.6H552.2V595.6H552.6V585.9H553.0V581.1H553.4V583.4H553.8V583.4H554.2V585.7H554.6V585.7H555.0V588.0H555.4V583.0H555.8V592.5H556.2V589.9H556.6V594.6H557.0V587.2H557.4V591.8H557.8V594.1H558.2V584.3H558.6V589.0H559.0V581.6H559.4V581.4H559.8V578.9H560.2V593.1H560.6V590.6H561.0V592.8H561.4V590.2H561.8V578.1H562.2V587.5H562.6V582.6H563.0V580.0H563.4V589.4H563.8V584.5H564.2V579.5H564.6V581.8H565.0V584.0H565.4V585.6H565.8V580.0H566.2V584.0H566.6V585.6H567.0V580.0H567.4V572.8H567.8V584.8H568.2V580.0H568.6V582.4H569.0V580.0H569.4V577.6H569.8V587.2H570.2V594.4H570.6V572.8H571.0V584.8H571.4V577.6H571.8V587.2H572.2V572.8H572.6V580.0H573.0V584.8H573.4V575.2H573.8V575.2H574.2V577.6H574.6V575.2H575.0V572.8H575.4V582.4H575.8V584.8H576.2V577.6H576.6V580.0H577.0V594.4H577.4V577.6H577.8V582.4H578.2V584.8H578.6V582.4H579.0V577.6H579.4V575.2H579.8V582.4H580.2V577.6H580.6V582.4H581.0V575.2H581.4V575.2H581.8V582.4H582.2V577.6H582.6V577.6H583.0V580.0H583.4V587.2H583.8V587.2H584.2V572.8H584.6V594.4H585.0V580.0H585.4V573.1H585.8V578.2H586.2V580.9H586.6V588.4H587.0V576.7H587.4V584.2H587.8V586.9H588.2V587.2H588.6V575.5H589.0V583.0H589.4V583.9H589.8V592.0H590.1V580.8H590.5V579.3H590.9V585.0H591.2V590.6H591.6V598.7H592.0V590.0H592.4V591.2H592.8V590.1H593.1V593.8H593.5V592.6H593.9V589.0H594.2V597.5H594.6V596.4H595.0V600.0H595.4V606.5H595.8V601.1H596.1V602.9H596.5V607.0H596.9V604.0H597.2V612.9H597.6V607.5H598.0V614.0H598.4V614.4H598.8V614.8H599.2V610.4H599.6V620.4H600.0V618.4H600.4V616.4H600.8V619.2H601.2V617.2H601.6V610.4H602.0V618.0H602.4V625.6H602.8V616.4H603.2V619.2H603.5V614.7H603.9V615.1H604.3V613.1H604.7V625.5H605.1V623.5H605.5V621.5H605.8V624.2H606.2V622.2H606.6V622.6H607.0V623.0H607.4V628.5H607.8V619.6H608.2V620.3H608.5V630.6H608.9V631.3H609.3V634.4H609.7V635.0H610.1V621.3H610.5V631.6H610.8V627.5H611.2V625.8H611.6V631.3H612.0V632.0H612.4V632.3H612.8V637.4H613.2V632.9H613.5V638.0H613.9V626.3H614.3V626.6H614.7V631.8H615.1V634.5H615.5V627.6H615.8V627.9H616.2V635.4H616.6V630.9H617.0V636.0H617.4V633.3H617.8V628.2H618.2V632.7H618.5V642.0H618.9V636.9H619.3V627.0H619.7V631.4H620.1V628.7H620.5V640.4H620.8V635.3H621.2V630.2H621.6V629.9H622.0V632.0H622.4V626.4H622.8V635.1H623.2V622.3H623.5V626.2H623.9V627.8H624.3V624.5H624.7V628.5H625.1V620.4H625.5V629.2H625.8V623.5H626.2V622.7H626.6V629.0H627.0V621.0H627.4V623.4H627.8V625.8H628.2V623.4H628.6V616.2H629.0V618.6H629.4V616.2H629.8V613.8H630.1V623.4H630.5V621.0H630.9V623.4H631.3V621.0H631.7V625.8H632.1V628.2H632.5V613.8H632.9V616.2H633.3V628.2H633.7V621.0H634.1V616.2H634.5V621.0H634.9V625.8H635.2V613.8H635.6V618.6H636.0V621.0H636.4V613.8H636.8V625.8H637.2V616.2H637.6V613.8H638.0V621.0H638.4V615.0H638.8V625.8H639.2V615.0H639.6V618.6H640.0V615.0H640.4V603.0H640.8V607.8H641.2V610.2H641.6V622.2H642.0V612.6H642.4V622.2H642.8V598.2H643.2V622.2H643.6V607.8H644.0V607.8H644.4V619.8H644.8V622.2H645.2V619.8H645.6V607.8H646.0V619.8H646.4V619.8H646.8V617.4H647.2V612.6H647.6V607.8H648.0V619.8H648.4V607.8H648.8V617.4H649.2V619.8H649.6V615.0H650.0V615.0H650.4V615.6H650.8V611.5H651.1V624.1H651.5V622.3H651.9V613.3H652.2V621.1H652.6V619.4H653.0V620.0H653.4V615.8H653.8V626.0H654.2V619.4H654.6V629.6H655.0V623.0H655.4V618.2H655.8V615.8H656.2V623.0H656.5V625.4H656.9V625.4H657.3V618.2H657.7V627.8H658.1V625.4H658.5V623.0H658.8V627.8H659.2V625.4H659.6V625.4H660.0V623.0H660.4V621.2H660.8V624.2H661.2V624.8H661.6V623.0H662.0V614.0H662.4V611.6H662.8V618.8H663.2V614.0H663.6V614.0H664.0V609.2H664.4V618.8H664.8V616.4H665.2V611.6H665.6V602.0H666.0V616.4H666.4V611.6H666.8V621.2H667.2V606.8H667.6V597.2H668.0V618.8H668.4V611.6H668.8V614.0H669.2V614.0H669.6V616.4H670.0V614.0H670.4V607.8H670.8V613.6H671.2V600.2H671.6V608.4H672.0V607.0H672.4V599.5H672.8V603.9H673.2V601.2H673.6V608.1H674.0V598.1H674.4V617.0H674.8V602.3H675.2V601.9H675.6V611.2H676.0V603.7H676.4V603.3H676.8V603.0H677.2V602.7H677.6V607.1H678.0V602.0H678.4V604.1H678.8V598.9H679.2V598.6H679.6V595.9H679.9V607.5H680.3V604.8H680.7V604.5H681.1V606.5H681.5V591.8H681.9V591.5H682.3V595.9H682.7V602.8H683.1V597.7H683.4V592.5H683.8V594.6H684.2V591.9H684.6V603.5H685.0V596.0H685.4V600.7H685.8V598.2H686.2V593.4H686.6V588.5H687.0V590.8H687.4V590.7H687.8V602.6H688.2V602.6H688.6V597.7H688.9V595.2H689.3V590.3H689.7V595.1H690.1V595.0H690.5V594.9H690.9V594.8H691.3V589.9H691.7V599.5H692.1V601.8H692.5V592.1H692.9V599.2H693.3V594.3H693.7V601.5H694.1V599.0H694.5V586.9H694.9V591.6H695.3V601.1H695.7V598.7H696.1V598.6H696.4V593.7H696.8V588.8H697.2V588.8H697.6V591.1H698.0V591.0H698.4V598.1H698.8V586.0H699.2V586.0H699.6V585.9H700.0V593.0H700.4V595.4H700.8V600.2H701.2V607.4H701.6V595.4H702.0V588.2H702.4V593.0H702.8V597.8H703.2V595.4H703.6V597.8H704.0V600.2H704.4V593.0H704.8V600.2H705.2V595.4H705.6V600.2H706.0V593.0H706.4V585.8H706.8V590.6H707.2V590.6H707.6V595.4H708.0V585.8H708.4V588.2H708.8V590.6H709.2V597.8H709.6V595.4H710.0V588.2H710.4V590.6H710.8V597.8H711.2V595.4H711.5V590.6H711.9V585.8H712.3V593.0H712.7V585.8H713.1V595.4H713.5V600.2H713.9V590.6H714.3V600.2H714.7V593.0H715.1V593.0H715.5V583.4H715.9V593.0H716.3V585.8H716.7V597.8H717.1V597.8H717.5V600.2H717.9V588.2H718.3V585.8H718.7V585.8H719.1V595.4H719.5V588.2H719.9V597.8H720.3V593.0H720.7V585.8H721.1V588.2H721.5V600.2H721.9V585.8H722.3V588.2H722.7V585.8H723.1V600.2H723.5V585.8H723.9V600.2H724.3V590.6H724.7V595.4H725.1V585.8H725.5V593.0H725.9V593.0H726.3V593.0H726.7V595.4H727.1V595.4H727.5V588.2H727.9V595.4H728.3V588.2H728.7V600.2H729.1V600.2H729.5V585.8H729.9V585.8H730.3V595.4H730.7V597.8H731.1V585.8H731.5V585.8H731.9V588.2H732.3V600.2H732.7V590.6H733.1V597.8H733.5V585.8H733.8V585.8H734.2V590.6H734.6V585.8H735.0V578.6H735.4V585.8H735.8V607.4H736.2V600.2H736.6V593.0H737.0V593.0H737.4V590.6H737.8V595.4H738.2V597.8H738.6V590.6H739.0V590.6H739.4V597.8H739.8V593.0H740.2V597.8H740.6V593.0H741.0V585.8H741.4V585.8H741.8V597.8H742.2V600.2H742.6V588.2H743.0V595.4H743.4V593.0H743.8V597.8H744.2V590.6H744.6V600.2H745.0V593.0H745.4V588.7H745.8V598.9H746.2V597.0H746.5V607.2H746.9V600.5H747.3V603.4H747.7V596.8H748.1V594.9H748.5V600.2H748.8V596.0H749.2V606.1H749.6V604.3H750.0V600.0H750.4V593.5H750.8V601.4H751.2V599.7H751.5V600.4H751.9V598.7H752.3V606.6H752.7V612.0H753.1V612.7H753.5V606.2H753.8V602.1H754.2V605.2H754.6V622.7H755.0V609.0H755.4V612.1H755.8V615.2H756.2V611.1H756.5V611.8H756.9V612.5H757.3V613.2H757.7V609.0H758.1V614.5H758.5V615.2H758.8V611.1H759.2V621.4H759.6V622.1H760.0V618.0H760.4V621.6H760.8V618.1H761.2V618.1H761.6V614.5H762.0V621.7H762.4V618.2H762.8V616.4H763.2V614.6H763.6V614.6H763.9V618.3H764.3V614.7H764.7V620.1H765.1V612.9H765.5V616.6H765.9V622.0H766.3V614.8H766.7V616.6H767.1V616.7H767.5V618.5H767.9V622.1H768.3V625.8H768.7V616.8H769.1V618.6H769.5V618.6H769.9V618.7H770.3V616.9H770.7V618.7H771.1V618.7H771.4V617.0H771.8V618.8H772.2V622.4H772.6V615.2H773.0V617.1H773.4V615.3H773.8V622.5H774.2V618.9H774.6V617.2H775.0V619.0H775.4V623.0H775.8V618.0H776.1V620.1H776.5V618.7H776.9V619.1H777.2V617.6H777.6V621.6H778.0V622.0H778.4V620.2H778.8V625.6H779.2V627.4H779.6V632.8H780.0V631.0H780.4V627.4H780.8V629.2H781.2V631.0H781.6V632.8H782.0V632.8H782.4V629.2H782.8V631.0H783.2V632.8H783.6V634.6H784.0V629.2H784.4V629.2H784.8V627.4H785.2V631.0H785.6V638.2H786.0V632.8H786.4V629.2H786.8V631.0H787.2V634.6H787.6V631.0H788.0V632.8H788.4V627.4H788.8V629.2H789.2V634.6H789.6V634.6H790.0V627.4H790.4V634.6H790.8V641.8H791.2V631.0H791.6V627.4H792.0V627.4H792.4V627.4H792.8V629.2H793.2V629.2H793.6V632.8H794.0V631.0H794.4V627.4H794.8V627.4H795.2V634.6H795.6V631.0H796.0V631.0H796.4V631.0H796.8V625.6H797.2V627.4H797.6V632.8H798.0V634.6H798.4V629.2H798.8V634.6H799.2V634.6H799.6V629.2H800.0V634.6H800.4V634.6H800.8V634.6H801.2V634.6H801.6V627.4H802.0V632.8H802.4V631.0H802.8V631.0H803.2V631.0H803.6V631.0H804.0V632.8H804.4V634.6H804.8V634.6H805.2V629.2H805.6V634.6H806.0V632.8H806.4V632.8H806.8V634.6H807.2V627.4H807.6V631.0H808.0V631.0H808.4V629.2H808.8V634.6H809.2V627.4H809.6V641.8H810.0V632.8H810.4V632.8H810.8V632.8H811.2V634.6H811.6V634.6H812.0V627.4H812.4V629.2H812.8V631.0H813.2V629.2H813.6V634.6H814.0V632.8H814.4V631.0H814.8V627.4H815.2V634.6H815.6V631.0H816.0V631.0H816.4V632.8H816.8V629.2H817.2V627.4H817.6V627.4H818.0V629.2H818.4V634.6H818.8V634.6H819.2V632.8H819.6V632.8H820.0V629.2H820.4V631.0H820.8V631.0H821.2V631.0H821.6V634.6H822.0V629.2H822.4V631.0H822.8V631.0H823.2V632.8H823.6V632.8H824.0V632.8H824.4V627.4H824.8V632.8H825.2V634.6H825.6V631.0H826.0V632.8H826.4V631.0H826.8V627.4H827.2V636.4H827.6V632.8H828.0V631.0H828.4V625.6H828.8V632.8H829.2V634.6H829.6V634.6H830.0V631.0H830.4V633.2H830.8V630.0H831.2V634.0H831.6V630.8H832.0V633.0H832.4V636.6H832.8V631.2H833.2V629.4H833.6V633.0H834.0V634.8H834.4V631.2H834.8V634.8H835.2V634.8H835.6V634.8H836.0V633.0H836.4V630.0H836.8V634.2H837.2V633.0H837.6V631.8H838.0V634.2H838.4V633.0H838.8V639.0H839.2V639.6H839.6V642.0H840.0V639.0H840.4V635.5H840.8V642.8H841.2V637.5H841.6V643.0H842.0V643.1H842.4V636.0H842.8V643.3H843.2V643.4H843.6V636.3H844.0V640.0H844.4V637.8H844.8V642.8H845.2V644.2H845.6V643.8H846.0V647.0H846.4V647.0H846.8V650.6H847.2V645.2H847.6V650.6H848.0V650.6H848.4V650.6H848.8V645.2H849.2V645.2H849.6V643.4H850.0V650.6H850.4V650.6H850.8V650.6H851.2V650.6H851.6V645.2H852.0V648.8H852.4V650.6H852.8V645.2H853.2V650.6H853.6V648.8H854.0V645.2H854.4V645.2H854.8V647.0H855.2V643.4H855.6V647.0H856.0V645.2H856.4V648.8H856.8V650.6H857.2V647.0H857.6V648.8H858.0V650.6H858.4V645.2H858.8V647.0H859.2V650.6H859.6V650.6H860.0V643.4H860.4V650.6H860.8V643.4H861.2V647.0H861.6V647.0H862.0V647.0H862.4V650.6H862.8V648.8H863.2V650.6H863.6V650.6H864.0V647.0H864.4V648.8H864.8V650.6H865.2V654.2H865.6V648.8H866.0V645.2H866.4V647.0H866.8V645.2H867.2V647.0H867.6V636.2H868.0V647.0H868.4V649.4H868.8V644.6H869.2V645.2H869.6V638.6H870.0V641.0H870.4V639.2H870.8V644.6H871.2V644.6H871.6V644.6H872.0V637.4H872.4V644.6H872.8V641.0H873.2V637.4H873.6V642.8H873.9V637.4H874.3V637.4H874.7V644.6H875.1V642.8H875.5V637.4H875.9V655.4H876.3V641.0H876.7V642.8H877.1V642.8H877.5V641.0H877.9V641.0H878.3V642.8H878.7V642.8H879.1V637.4H879.5V641.0H879.9V637.4H880.3V639.2H880.7V641.0H881.1V639.2H881.4V639.2H881.8V644.6H882.2V641.0H882.6V639.2H883.0V641.0H883.4V644.6H883.8V632.0H884.2V637.4H884.6V639.2H885.0V641.0H885.4V637.7H885.8V643.5H886.2V642.0H886.6V645.9H886.9V642.7H887.3V641.2H887.7V639.7H888.1V641.9H888.5V647.6H888.9V640.7H889.3V642.9H889.7V643.2H890.1V648.9H890.4V642.1H890.8V646.0H891.2V648.1H891.6V643.1H892.0V647.0H892.4V645.6H892.8V651.3H893.2V649.8H893.6V652.0H894.0V652.4H894.4V643.7H894.8V645.9H895.2V648.0H895.6V650.1H896.0V646.9H896.4V649.1H896.8V653.0H897.2V647.9H897.6V653.7H898.0V655.9H898.4V656.2H898.8V651.2H899.2V655.1H899.6V651.9H900.0V654.0H900.4V657.9H900.8V652.8H901.2V653.1H901.6V651.6H902.0V659.1H902.4V654.0H902.8V654.3H903.2V658.2H903.6V654.9H904.0V664.2H904.4V657.3H904.8V657.6H905.2V661.5H905.6V661.8H906.0V660.3H906.4V658.8H906.8V660.9H907.2V657.6H907.6V657.9H908.0V660.0H908.4V660.0H908.8V661.8H909.2V656.4H909.6V658.2H910.0V663.6H910.4V658.2H910.8V660.0H911.2V663.6H911.6V656.4H912.0V658.2H912.4V651.0H912.8V660.0H913.2V658.2H913.6V660.0H914.0V661.8H914.4V663.6H914.8V660.0H915.1V661.8H915.5V661.8H915.9V660.0H916.3V656.4H916.7V660.0H917.1V656.4H917.5V661.8H917.9V663.6H918.3V656.4H918.7V660.0H919.1V660.0H919.5V660.0H919.9V663.6H920.3V660.0H920.7V660.0H921.1V658.2H921.5V660.0H921.9V663.6H922.3V656.4H922.7V661.8H923.1V663.6H923.5V656.4H923.9V656.4H924.3V658.2H924.7V661.8H925.1V660.0H925.5V656.4H925.9V658.2H926.3V660.0H926.7V661.8H927.1V660.0H927.5V663.6H927.9V663.6H928.2V661.8H928.6V661.8H929.0V656.4H929.4V663.6H929.8V656.4H930.2V661.8H930.6V663.6H931.0V660.0H931.4V660.0H931.8V660.0H932.2V658.2H932.6V661.8H933.0V656.4H933.4V658.2H933.8V663.6H934.2V661.8H934.6V656.4H935.0V660.0" stroke="#1c68e0" stroke-width="1.8" stroke-dasharray="2.7 1.9"/>
</g>
<g stroke="#000" stroke-width="3.3" fill="none" stroke-linecap="butt">
<line x1="152.5" y1="15.2" x2="152.5" y2="668.4"/>
<line x1="150.85" y1="666.75" x2="958.6" y2="666.75"/>
</g>
<g stroke="#000" stroke-width="3.3" fill="none" stroke-linecap="round">
<line x1="139.9" y1="666.75" x2="152" y2="666.75"/>
<line x1="139.9" y1="585.51" x2="152" y2="585.51"/>
<line x1="139.9" y1="504.27" x2="152" y2="504.27"/>
<line x1="139.9" y1="423.04" x2="152" y2="423.04"/>
<line x1="139.9" y1="341.80" x2="152" y2="341.80"/>
<line x1="139.9" y1="260.56" x2="152" y2="260.56"/>
<line x1="139.9" y1="179.32" x2="152" y2="179.32"/>
<line x1="139.9" y1="98.08" x2="152" y2="98.08"/>
<line x1="139.9" y1="16.85" x2="152" y2="16.85"/>
<line x1="146.2" y1="626.13" x2="152" y2="626.13"/>
<line x1="146.2" y1="544.89" x2="152" y2="544.89"/>
<line x1="146.2" y1="463.66" x2="152" y2="463.66"/>
<line x1="146.2" y1="382.42" x2="152" y2="382.42"/>
<line x1="146.2" y1="301.18" x2="152" y2="301.18"/>
<line x1="146.2" y1="219.94" x2="152" y2="219.94"/>
<line x1="146.2" y1="138.70" x2="152" y2="138.70"/>
<line x1="146.2" y1="57.47" x2="152" y2="57.47"/>
</g>
<g stroke="#000" stroke-width="2.8" fill="none" stroke-linecap="round">
<line x1="214.50" y1="666.75" x2="214.50" y2="679.4"/>
<line x1="338.25" y1="666.75" x2="338.25" y2="679.4"/>
<line x1="462.00" y1="666.75" x2="462.00" y2="679.4"/>
<line x1="585.75" y1="666.75" x2="585.75" y2="679.4"/>
<line x1="709.50" y1="666.75" x2="709.50" y2="679.4"/>
<line x1="833.25" y1="666.75" x2="833.25" y2="679.4"/>
<line x1="957.00" y1="666.75" x2="957.00" y2="679.4"/>
<line x1="152.62" y1="666.75" x2="152.62" y2="673.2"/>
<line x1="276.38" y1="666.75" x2="276.38" y2="673.2"/>
<line x1="400.12" y1="666.75" x2="400.12" y2="673.2"/>
<line x1="523.88" y1="666.75" x2="523.88" y2="673.2"/>
<line x1="647.62" y1="666.75" x2="647.62" y2="673.2"/>
<line x1="771.38" y1="666.75" x2="771.38" y2="673.2"/>
<line x1="895.12" y1="666.75" x2="895.12" y2="673.2"/>
</g>
<g font-family="Liberation Serif, serif" font-size="38.5" fill="#000">
<text transform="translate(101.2,681.65) scale(1,1.045)">0</text>
<text transform="translate(85.4,600.41) scale(1,1.045)">20</text>
<text transform="translate(85.4,519.17) scale(1,1.045)">40</text>
<text transform="translate(85.4,437.94) scale(1,1.045)">60</text>
<text transform="translate(85.4,356.70) scale(1,1.045)">80</text>
<text transform="translate(70.6,275.46) scale(1,1.045)">100</text>
<text transform="translate(70.6,194.22) scale(1,1.045)">120</text>
<text transform="translate(70.6,112.98) scale(1,1.045)">140</text>
<text transform="translate(70.6,31.75) scale(1,1.045)">160</text>
<text transform="translate(213.50,715.8) scale(1,1.045)" text-anchor="middle">0</text>
<text transform="translate(338.14,715.8) scale(1,1.045)" text-anchor="middle">20</text>
<text transform="translate(461.89,715.8) scale(1,1.045)" text-anchor="middle">40</text>
<text transform="translate(585.64,715.8) scale(1,1.045)" text-anchor="middle">60</text>
<text transform="translate(709.39,715.8) scale(1,1.045)" text-anchor="middle">80</text>
<text transform="translate(833.75,715.8) scale(1,1.045)" text-anchor="middle">100</text>
<text transform="translate(957.50,715.8) scale(1,1.045)" text-anchor="middle">120</text>
</g>
<text transform="translate(39.6,552.5) rotate(-90)" font-family="Liberation Serif, serif" font-weight="bold" font-size="47.8" fill="#000">Incident wave(Mpa)</text>
<text x="496" y="767" font-family="Liberation Serif, serif" font-weight="bold" font-style="italic" font-size="45" fill="#000">t</text>
<text transform="translate(552.5,767) scale(0.88,1)" font-family="Liberation Serif, serif" font-weight="bold" font-size="45" fill="#000">μ</text>
<text x="575" y="767" font-family="Liberation Serif, serif" font-weight="bold" font-size="45" fill="#000">s</text>
<path d="M545.6,734 C538.4,738 533.9,744 533.9,751.2 C533.9,758.4 538.4,763.5 545.6,767.8 L546,766.8 C540.3,763 537.1,758 537.1,751.2 C537.1,744.5 540.3,739.5 546,735 Z" fill="#000"/>
<path d="M599.2,734 C606.5,738 611.6,744 611.6,751.5 C611.6,759 606.5,764 599.2,768 L598.8,767 C604.5,763 608.3,758 608.3,751.5 C608.3,745 604.5,739.5 598.8,735 Z" fill="#000"/>
<g stroke-width="2.2" stroke-linecap="round" fill="none">
<line x1="452" y1="133.8" x2="561.2" y2="133.8" stroke="#3a3a3a"/>
<line x1="452" y1="197.4" x2="497.6" y2="197.4" stroke="#e8413f"/>
<line x1="509.6" y1="197.4" x2="526" y2="197.4" stroke="#e8413f"/>
<line x1="538.3" y1="197.4" x2="555" y2="197.4" stroke="#e8413f"/>
</g>
<g stroke="#1f6fe3" stroke-width="2.8" stroke-linecap="round">
<line x1="452.60" y1="260.3" x2="454.20" y2="260.3"/>
<line x1="459.70" y1="260.3" x2="461.30" y2="260.3"/>
<line x1="466.80" y1="260.3" x2="468.40" y2="260.3"/>
<line x1="473.90" y1="260.3" x2="475.50" y2="260.3"/>
<line x1="481.00" y1="260.3" x2="482.60" y2="260.3"/>
<line x1="488.10" y1="260.3" x2="489.70" y2="260.3"/>
<line x1="495.20" y1="260.3" x2="496.80" y2="260.3"/>
<line x1="502.30" y1="260.3" x2="503.90" y2="260.3"/>
<line x1="509.40" y1="260.3" x2="511.00" y2="260.3"/>
<line x1="516.50" y1="260.3" x2="518.10" y2="260.3"/>
<line x1="523.60" y1="260.3" x2="525.20" y2="260.3"/>
<line x1="530.70" y1="260.3" x2="532.30" y2="260.3"/>
<line x1="537.80" y1="260.3" x2="539.40" y2="260.3"/>
<line x1="544.90" y1="260.3" x2="546.50" y2="260.3"/>
<line x1="552.00" y1="260.3" x2="553.60" y2="260.3"/>
<line x1="559.10" y1="260.3" x2="560.70" y2="260.3"/>
</g>
<text x="575.4" y="147.6" font-family="Liberation Serif, serif" font-size="38.5" fill="#000"><tspan font-style="italic">U</tspan><tspan font-size="25.5" dy="5.4">B</tspan><tspan dy="-5.4" dx="-2" font-size="38">=20kV</tspan></text>
<text x="575.4" y="211.2" font-family="Liberation Serif, serif" font-size="38.5" fill="#000"><tspan font-style="italic">U</tspan><tspan font-size="25.5" dy="5.4">B</tspan><tspan dy="-5.4" dx="-2" font-size="38">=25kV</tspan></text>
<text x="575.4" y="274.1" font-family="Liberation Serif, serif" font-size="38.5" fill="#000"><tspan font-style="italic">U</tspan><tspan font-size="25.5" dy="5.4">B</tspan><tspan dy="-5.4" dx="-2" font-size="38">=30kV</tspan></text>
</svg></body></html>
